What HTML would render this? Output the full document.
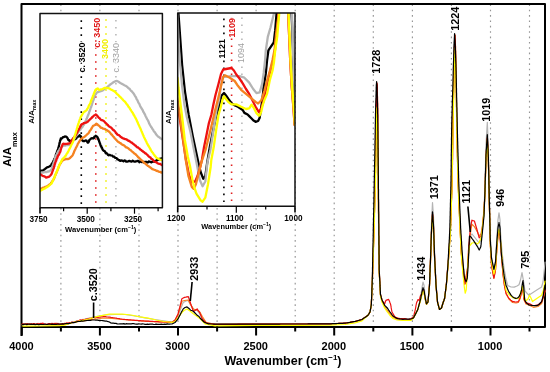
<!DOCTYPE html>
<html><head><meta charset="utf-8"><title>IR spectra</title>
<style>html,body{margin:0;padding:0;background:#fff;}svg{display:block;}</style></head>
<body><svg width="550" height="372" viewBox="0 0 550 372">
<defs><clipPath id="c1"><rect x="40" y="13.4" width="122.4" height="194.3"/></clipPath><clipPath id="c2"><rect x="177.7" y="12.9" width="117.3" height="193.3"/></clipPath></defs>
<rect width="550" height="372" fill="#fff"/>
<g stroke="#959595" stroke-width="1.15" stroke-dasharray="1.6 3.755"><line x1="60.9" y1="4.41" x2="60.9" y2="325"/><line x1="99.9" y1="4.41" x2="99.9" y2="325"/><line x1="139.0" y1="4.41" x2="139.0" y2="325"/><line x1="178.0" y1="4.41" x2="178.0" y2="325"/><line x1="217.1" y1="4.41" x2="217.1" y2="325"/><line x1="256.1" y1="4.41" x2="256.1" y2="325"/><line x1="295.2" y1="4.41" x2="295.2" y2="325"/><line x1="334.2" y1="4.41" x2="334.2" y2="325"/><line x1="373.3" y1="4.41" x2="373.3" y2="325"/><line x1="412.4" y1="4.41" x2="412.4" y2="325"/><line x1="451.4" y1="4.41" x2="451.4" y2="325"/><line x1="490.5" y1="4.41" x2="490.5" y2="325"/><line x1="529.5" y1="4.41" x2="529.5" y2="325"/></g>
<polyline fill="none" stroke="#000" stroke-width="2" stroke-linejoin="round" points="21.5,336 21.5,4.1 545,4.1 545,327 21.5,327"/>
<polyline fill="none" stroke="#b4b4b4" stroke-width="1.2" stroke-linejoin="round" stroke-linecap="round" points="22.0,324.3 40.0,324.3 60.0,325.0 66.0,324.0 71.0,322.5 79.0,320.5 87.0,318.5 96.0,316.5 105.0,315.0 115.0,314.5 125.0,314.5 135.0,316.0 145.0,317.8 155.0,319.5 165.0,321.0 172.0,322.0 175.0,320.5 178.0,316.0 181.0,308.0 183.2,302.5 186.0,301.0 188.3,300.5 190.0,304.0 192.0,307.0 194.0,309.5 197.2,310.5 199.5,313.5 202.3,319.0 206.0,322.5 215.0,324.3 260.0,324.1 300.0,324.0 330.0,323.8 345.0,323.2 355.0,321.5 362.0,319.5 368.0,315.3 370.0,312.0 371.3,305.0 372.4,280.4 373.9,231.4 375.5,172.7 376.3,113.9 376.8,89.4 377.0,86.0 377.3,89.4 377.7,113.9 378.2,172.7 378.7,231.4 379.2,270.6 380.5,294.6 382.0,300.0 384.6,305.3 387.3,308.0 390.0,312.0 393.0,316.0 397.0,318.5 403.0,319.3 411.0,319.0 413.5,318.0 414.8,315.4 416.3,312.5 417.7,309.8 419.0,305.0 420.5,297.6 422.0,287.7 423.0,282.0 424.0,285.1 425.2,295.7 426.5,303.7 428.0,302.0 429.5,283.2 430.5,255.7 431.5,222.6 432.5,202.5 433.5,217.1 434.5,250.2 436.0,283.2 437.5,302.0 439.5,309.5 441.5,308.0 443.0,303.0 444.7,298.0 446.5,283.1 448.1,264.5 450.4,231.4 452.1,182.7 452.9,129.1 453.8,85.2 454.5,51.1 455.0,40.0 455.5,51.1 456.2,85.2 456.8,129.1 458.1,182.7 460.0,226.5 461.7,250.9 463.5,268.4 464.5,278.0 467.3,276.0 468.5,258.0 470.0,236.0 472.0,234.0 474.4,237.0 477.6,241.0 479.2,243.0 480.8,240.0 482.4,228.0 484.0,212.0 485.0,183.0 486.0,144.6 487.3,122.3 488.3,144.6 489.3,194.0 490.3,237.9 491.5,257.6 493.9,269.4 495.5,262.0 497.0,234.6 498.0,219.6 499.0,212.9 500.0,219.6 500.5,232.0 502.0,252.0 504.0,268.0 506.0,279.0 507.7,285.5 511.0,287.0 514.2,287.1 517.0,286.0 519.0,284.7 520.5,280.0 522.0,272.6 523.5,281.0 525.0,291.0 528.7,295.2 533.0,292.5 536.8,290.0 541.6,287.0 543.0,282.0 544.5,267.7 545.0,262.0"/><polyline fill="none" stroke="#f58220" stroke-width="1.2" stroke-linejoin="round" stroke-linecap="round" points="22.0,324.3 40.0,324.3 60.0,325.0 66.0,324.3 71.0,323.0 79.0,321.5 87.0,320.3 96.0,319.0 104.0,318.0 112.0,318.5 122.0,319.5 135.0,320.5 148.0,321.3 160.0,322.0 172.0,322.5 175.0,320.5 178.0,315.0 181.9,301.3 184.5,300.5 188.3,300.0 190.3,304.0 193.4,309.0 197.2,310.2 199.8,312.0 202.3,316.5 206.2,322.5 215.0,324.4 260.0,324.1 300.0,324.0 330.0,323.8 345.0,323.2 355.0,321.5 362.0,319.5 368.0,315.3 370.0,312.0 371.3,305.0 372.4,280.2 374.0,230.8 375.5,171.5 376.3,112.2 376.8,87.5 377.0,84.0 377.3,87.5 377.7,112.2 378.2,171.5 378.7,230.8 379.2,270.3 380.5,295.0 382.0,301.0 384.6,306.5 387.3,310.5 390.0,313.5 393.0,317.0 397.0,319.5 403.0,320.0 411.0,319.8 413.5,318.0 414.8,315.4 416.3,312.5 417.7,309.8 419.0,305.1 420.5,300.2 422.0,293.8 423.0,290.0 424.0,292.0 425.2,299.0 426.5,304.3 428.0,302.0 429.5,285.4 430.5,261.0 431.5,231.8 432.5,214.0 433.5,226.9 434.5,256.2 436.0,285.4 437.5,302.0 439.5,309.5 441.5,308.0 443.0,303.0 444.7,298.0 446.5,283.0 448.1,264.1 450.4,230.3 452.1,180.6 452.9,125.9 453.8,81.1 454.5,46.3 455.0,35.0 455.5,46.3 456.2,81.1 456.8,125.9 458.1,180.6 460.0,225.4 461.3,253.0 463.0,270.0 464.8,284.1 466.5,282.0 467.5,270.0 468.5,255.0 470.3,233.9 471.9,224.2 474.4,226.6 477.6,232.3 479.2,236.0 481.0,234.0 482.4,226.0 484.0,210.0 485.0,192.0 486.0,157.8 487.3,138.0 488.3,157.8 489.3,201.8 490.3,244.0 491.5,265.0 493.9,278.5 495.5,270.0 497.0,247.0 498.0,236.0 499.0,231.0 500.0,236.0 501.5,256.0 503.0,274.0 504.5,286.0 506.1,294.0 509.0,299.0 512.6,302.5 516.0,303.0 518.3,302.5 520.0,299.0 521.5,293.0 522.3,289.0 523.2,293.0 524.0,300.0 526.0,304.0 528.7,305.0 533.5,307.3 538.0,306.5 541.6,303.5 543.5,297.0 545.0,291.0"/><polyline fill="none" stroke="#ee1111" stroke-width="1.2" stroke-linejoin="round" stroke-linecap="round" points="22.0,324.2 23.0,323.7 24.0,324.3 25.0,324.2 26.0,324.0 27.0,323.6 28.0,324.3 29.0,324.2 30.0,323.8 31.0,323.9 32.0,324.0 33.0,323.7 34.0,323.5 35.0,324.2 36.0,324.0 37.0,324.1 38.0,323.4 39.0,324.2 40.0,323.5 41.0,323.4 42.0,323.6 43.0,323.1 44.0,324.4 45.0,324.1 46.0,324.4 47.0,324.2 48.0,324.1 49.0,323.5 50.0,323.7 51.0,323.8 52.0,323.3 53.0,324.2 54.0,323.4 55.0,323.5 56.0,323.2 57.0,324.1 58.0,323.3 59.0,324.4 60.0,324.0 61.0,323.9 62.0,323.9 63.0,323.6 64.0,323.6 65.0,323.2 66.0,323.5 67.0,322.7 68.0,323.5 69.0,322.6 70.0,323.0 71.0,322.5 72.0,321.9 73.0,322.6 74.0,322.2 75.0,321.8 76.0,321.6 77.0,321.1 78.0,321.0 79.0,320.5 80.0,319.9 81.0,320.1 82.0,320.3 83.0,319.4 84.0,320.1 85.0,319.8 86.0,319.1 87.0,319.0 88.0,318.7 89.0,318.6 90.0,318.4 91.0,318.9 92.0,318.0 93.0,317.4 94.0,317.3 95.0,317.9 96.0,317.5 97.0,317.4 98.1,317.3 99.1,317.2 100.2,317.1 101.2,316.9 102.2,316.8 103.3,316.7 104.3,316.6 105.4,316.7 106.5,316.9 107.6,317.0 108.7,317.1 109.8,317.2 110.9,317.4 112.0,317.5 113.0,317.7 114.0,317.8 115.1,318.0 116.1,318.2 117.1,318.4 118.1,318.5 119.1,318.7 120.2,318.9 121.2,319.0 122.2,319.2 123.3,319.3 124.3,319.4 125.4,319.5 126.5,319.6 127.5,319.7 128.6,319.8 129.7,319.8 130.7,319.9 131.8,320.0 132.9,320.1 133.9,320.2 135.0,320.3 136.1,320.4 137.1,320.4 138.2,320.5 139.2,320.6 140.3,320.7 141.3,320.8 142.4,320.8 143.5,320.9 144.5,321.0 145.6,321.1 146.6,321.1 147.7,321.2 148.7,321.2 149.8,321.3 150.8,321.4 151.8,321.4 152.8,321.4 153.8,321.5 154.9,321.6 155.9,321.6 156.9,321.6 157.9,321.7 159.0,321.8 160.0,321.8 161.0,321.8 162.0,321.9 163.0,321.9 164.0,322.0 165.0,322.0 166.0,322.1 167.0,322.1 168.0,322.1 169.0,322.2 170.0,322.2 171.0,322.3 172.0,322.3 173.0,321.5 174.0,320.8 175.0,320.0 175.5,319.0 176.0,318.0 176.5,317.0 177.0,316.0 177.5,315.0 178.0,314.0 178.3,313.0 178.5,312.0 178.8,310.9 179.0,309.9 179.3,308.9 179.6,307.9 179.8,306.9 180.1,305.8 180.3,304.8 180.6,303.8 180.9,302.8 181.1,301.8 181.4,300.7 181.6,299.7 181.9,298.7 183.2,298.0 184.5,297.4 185.8,297.2 187.0,296.9 188.3,296.7 188.6,297.7 189.0,298.6 189.3,299.6 189.6,300.6 190.0,301.5 190.3,302.5 190.6,303.5 191.0,304.5 191.3,305.5 191.7,306.5 192.0,307.5 192.4,308.5 192.7,309.5 193.1,310.5 193.4,311.5 194.3,310.9 195.3,310.2 196.2,309.5 197.2,308.9 197.8,309.8 198.5,310.8 199.2,311.8 199.8,312.7 200.2,313.8 200.6,314.8 201.1,315.9 201.5,316.9 201.9,317.9 202.3,319.0 203.1,319.8 203.9,320.6 204.6,321.4 205.4,322.2 206.2,323.0 207.3,323.2 208.4,323.4 209.5,323.5 210.6,323.7 211.7,323.9 212.8,324.0 213.9,324.2 215.0,324.4 216.0,324.4 217.0,324.4 218.0,324.4 219.0,324.4 220.0,324.4 221.0,324.4 222.0,324.4 223.0,324.3 224.0,324.3 225.0,324.3 226.0,324.3 227.0,324.3 228.0,324.3 229.0,324.3 230.0,324.3 231.0,324.3 232.0,324.3 233.0,324.3 234.0,324.3 235.0,324.3 236.0,324.3 237.0,324.3 238.0,324.2 239.0,324.2 240.0,324.2 241.0,324.2 242.0,324.2 243.0,324.2 244.0,324.2 245.0,324.2 246.0,324.2 247.0,324.2 248.0,324.2 249.0,324.2 250.0,324.2 251.0,324.2 252.0,324.2 253.0,324.1 254.0,324.1 255.0,324.1 256.0,324.1 257.0,324.1 258.0,324.1 259.0,324.1 260.0,324.1 261.0,324.1 262.0,324.1 263.0,324.1 264.0,324.1 265.0,324.1 266.0,324.1 267.0,324.1 268.0,324.1 269.0,324.1 270.0,324.1 271.0,324.1 272.0,324.1 273.0,324.1 274.0,324.1 275.0,324.1 276.0,324.1 277.0,324.1 278.0,324.1 279.0,324.1 280.0,324.1 281.0,324.0 282.0,324.0 283.0,324.0 284.0,324.0 285.0,324.0 286.0,324.0 287.0,324.0 288.0,324.0 289.0,324.0 290.0,324.0 291.0,324.0 292.0,324.0 293.0,324.0 294.0,324.0 295.0,324.0 296.0,324.0 297.0,324.0 298.0,324.0 299.0,324.0 300.0,324.0 301.0,324.0 302.0,324.0 303.0,324.0 304.0,324.0 305.0,324.0 306.0,324.0 307.0,324.0 308.0,323.9 309.0,323.9 310.0,323.9 311.0,323.9 312.0,323.9 313.0,323.9 314.0,323.9 315.0,323.9 316.0,323.9 317.0,323.9 318.0,323.9 319.0,323.9 320.0,323.9 321.0,323.9 322.0,323.9 323.0,323.8 324.0,323.8 325.0,323.8 326.0,323.8 327.0,323.8 328.0,323.8 329.0,323.8 330.0,323.8 331.0,323.8 332.0,323.7 333.0,323.7 334.0,323.6 335.0,323.6 336.0,323.6 337.0,323.5 338.0,323.5 339.0,323.4 340.0,323.4 341.0,323.4 342.0,323.3 343.0,323.3 344.0,323.2 345.0,323.2 346.0,323.0 347.0,322.9 348.0,322.7 349.0,322.5 350.0,322.4 351.0,322.2 352.0,322.0 353.0,321.8 354.0,321.7 355.0,321.5 356.0,321.2 357.0,320.9 358.0,320.6 359.0,320.4 360.0,320.1 361.0,319.8 362.0,319.5 362.9,318.9 363.7,318.3 364.6,317.7 365.4,317.1 366.3,316.5 367.1,315.9 368.0,315.3 368.7,314.2 369.3,313.1 370.0,312.0 370.2,311.0 370.4,310.0 370.6,309.0 370.7,308.0 370.9,307.0 371.1,306.0 371.3,305.0 371.3,304.0 371.4,302.9 371.4,301.9 371.5,300.9 371.5,299.8 371.6,298.8 371.6,297.7 371.6,296.7 371.7,295.7 371.7,294.6 371.8,293.6 371.8,292.6 371.8,291.5 371.9,290.5 371.9,289.5 372.0,288.4 372.0,287.4 372.1,286.4 372.1,285.3 372.1,284.3 372.2,283.2 372.3,282.2 372.3,281.2 372.4,280.1 372.4,279.1 372.4,278.1 372.5,277.1 372.5,276.1 372.5,275.1 372.6,274.1 372.6,273.0 372.6,272.0 372.7,271.0 372.7,270.0 372.7,269.0 372.8,268.0 372.8,267.0 372.8,265.9 372.9,264.9 372.9,263.9 372.9,262.9 373.0,261.9 373.0,260.9 373.0,259.9 373.1,258.9 373.1,257.8 373.1,256.8 373.2,255.8 373.2,254.8 373.2,253.8 373.3,252.8 373.3,251.8 373.3,250.7 373.4,249.7 373.4,248.7 373.4,247.7 373.5,246.7 373.5,245.7 373.5,244.7 373.6,243.7 373.6,242.6 373.6,241.6 373.7,240.6 373.7,239.6 373.7,238.6 373.7,237.6 373.8,236.6 373.8,235.5 373.8,234.5 373.9,233.5 373.9,232.5 373.9,231.5 374.0,230.5 374.0,229.5 374.0,228.5 374.0,227.5 374.1,226.4 374.1,225.4 374.1,224.4 374.2,223.4 374.2,222.4 374.2,221.4 374.2,220.4 374.3,219.4 374.3,218.4 374.3,217.4 374.4,216.3 374.4,215.3 374.4,214.3 374.4,213.3 374.5,212.3 374.5,211.3 374.5,210.3 374.6,209.3 374.6,208.3 374.6,207.3 374.6,206.2 374.7,205.2 374.7,204.2 374.7,203.2 374.7,202.2 374.8,201.2 374.8,200.2 374.8,199.2 374.9,198.2 374.9,197.2 374.9,196.1 374.9,195.1 375.0,194.1 375.0,193.1 375.0,192.1 375.0,191.1 375.1,190.1 375.1,189.1 375.1,188.1 375.1,187.1 375.2,186.0 375.2,185.0 375.2,184.0 375.2,183.0 375.3,182.0 375.3,181.0 375.3,180.0 375.3,179.0 375.4,178.0 375.4,177.0 375.4,175.9 375.4,174.9 375.4,173.9 375.5,172.9 375.5,171.9 375.5,170.9 375.5,169.9 375.5,168.9 375.5,167.9 375.5,166.9 375.6,165.8 375.6,164.8 375.6,163.8 375.6,162.8 375.6,161.8 375.6,160.8 375.6,159.8 375.6,158.8 375.7,157.8 375.7,156.8 375.7,155.7 375.7,154.7 375.7,153.7 375.7,152.7 375.7,151.7 375.8,150.7 375.8,149.7 375.8,148.7 375.8,147.7 375.8,146.7 375.8,145.6 375.8,144.6 375.9,143.6 375.9,142.6 375.9,141.6 375.9,140.6 375.9,139.6 375.9,138.6 375.9,137.6 375.9,136.6 376.0,135.5 376.0,134.5 376.0,133.5 376.0,132.5 376.0,131.5 376.0,130.5 376.0,129.5 376.1,128.5 376.1,127.5 376.1,126.5 376.1,125.4 376.1,124.4 376.1,123.4 376.1,122.4 376.1,121.4 376.2,120.4 376.2,119.4 376.2,118.4 376.2,117.4 376.2,116.4 376.2,115.3 376.2,114.3 376.3,113.3 376.3,112.3 376.3,111.3 376.3,110.3 376.3,109.2 376.3,108.2 376.4,107.2 376.4,106.1 376.4,105.1 376.4,104.1 376.4,103.0 376.5,102.0 376.5,101.0 376.5,99.9 376.5,98.9 376.6,97.9 376.6,96.8 376.6,95.8 376.6,94.8 376.6,93.7 376.7,92.7 376.7,91.6 376.7,90.6 376.7,89.6 376.7,88.5 376.8,87.5 376.8,86.5 376.9,85.3 376.9,84.2 377.0,83.0 377.1,84.2 377.2,85.3 377.3,86.5 377.3,87.5 377.3,88.5 377.3,89.6 377.4,90.6 377.4,91.6 377.4,92.7 377.4,93.7 377.4,94.8 377.4,95.8 377.5,96.8 377.5,97.9 377.5,98.9 377.5,99.9 377.5,101.0 377.6,102.0 377.6,103.0 377.6,104.1 377.6,105.1 377.6,106.1 377.6,107.2 377.7,108.2 377.7,109.2 377.7,110.3 377.7,111.3 377.7,112.3 377.7,113.3 377.7,114.3 377.8,115.3 377.8,116.4 377.8,117.4 377.8,118.4 377.8,119.4 377.8,120.4 377.8,121.4 377.8,122.4 377.8,123.4 377.8,124.4 377.8,125.4 377.8,126.5 377.9,127.5 377.9,128.5 377.9,129.5 377.9,130.5 377.9,131.5 377.9,132.5 377.9,133.5 377.9,134.5 377.9,135.5 377.9,136.6 377.9,137.6 378.0,138.6 378.0,139.6 378.0,140.6 378.0,141.6 378.0,142.6 378.0,143.6 378.0,144.6 378.0,145.6 378.0,146.7 378.0,147.7 378.0,148.7 378.0,149.7 378.1,150.7 378.1,151.7 378.1,152.7 378.1,153.7 378.1,154.7 378.1,155.7 378.1,156.8 378.1,157.8 378.1,158.8 378.1,159.8 378.1,160.8 378.1,161.8 378.2,162.8 378.2,163.8 378.2,164.8 378.2,165.8 378.2,166.9 378.2,167.9 378.2,168.9 378.2,169.9 378.2,170.9 378.2,171.9 378.2,172.9 378.2,173.9 378.2,174.9 378.3,175.9 378.3,177.0 378.3,178.0 378.3,179.0 378.3,180.0 378.3,181.0 378.3,182.0 378.3,183.0 378.3,184.0 378.3,185.0 378.3,186.0 378.3,187.1 378.3,188.1 378.3,189.1 378.4,190.1 378.4,191.1 378.4,192.1 378.4,193.1 378.4,194.1 378.4,195.1 378.4,196.1 378.4,197.2 378.4,198.2 378.4,199.2 378.4,200.2 378.4,201.2 378.5,202.2 378.5,203.2 378.5,204.2 378.5,205.2 378.5,206.2 378.5,207.3 378.5,208.3 378.5,209.3 378.5,210.3 378.5,211.3 378.5,212.3 378.5,213.3 378.6,214.3 378.6,215.3 378.6,216.3 378.6,217.4 378.6,218.4 378.6,219.4 378.6,220.4 378.6,221.4 378.6,222.4 378.6,223.4 378.6,224.4 378.6,225.4 378.7,226.4 378.7,227.5 378.7,228.5 378.7,229.5 378.7,230.5 378.7,231.5 378.7,232.5 378.7,233.5 378.7,234.6 378.7,235.6 378.8,236.6 378.8,237.6 378.8,238.6 378.8,239.6 378.8,240.7 378.8,241.7 378.8,242.7 378.8,243.7 378.8,244.7 378.9,245.8 378.9,246.8 378.9,247.8 378.9,248.8 378.9,249.8 378.9,250.9 378.9,251.9 378.9,252.9 379.0,253.9 379.0,254.9 379.0,255.9 379.0,257.0 379.0,258.0 379.0,259.0 379.0,260.0 379.0,261.0 379.1,262.1 379.1,263.1 379.1,264.1 379.1,265.1 379.1,266.1 379.1,267.2 379.1,268.2 379.1,269.2 379.2,270.2 379.2,271.2 379.3,272.3 379.3,273.3 379.4,274.3 379.4,275.4 379.5,276.4 379.5,277.4 379.6,278.5 379.7,279.5 379.7,280.5 379.8,281.6 379.8,282.6 379.9,283.6 380.0,284.7 380.0,285.7 380.1,286.7 380.1,287.8 380.2,288.8 380.2,289.8 380.3,290.9 380.3,291.9 380.4,292.9 380.4,294.0 380.5,295.0 380.8,296.0 381.1,297.0 381.4,298.0 381.7,299.0 382.0,300.0 382.6,301.0 383.3,302.0 384.0,303.0 384.6,304.0 385.0,302.8 385.5,301.6 385.9,300.4 387.2,299.9 388.6,299.4 389.1,300.5 389.6,301.6 390.0,302.8 390.5,303.9 390.7,304.9 390.9,305.9 391.1,306.9 391.2,307.9 391.4,309.0 391.6,310.0 391.8,311.0 392.0,312.0 392.6,313.0 393.2,314.0 393.8,315.0 394.4,316.0 395.0,317.0 396.0,317.4 397.0,317.7 398.0,318.1 399.0,318.4 400.0,318.8 401.0,318.7 402.0,318.7 403.0,318.6 404.0,318.6 405.0,318.5 406.0,318.8 407.0,319.2 408.0,319.5 409.0,319.2 410.0,318.8 411.0,318.5 412.2,317.8 413.5,317.0 413.8,316.0 414.0,315.0 414.2,314.0 414.5,313.0 414.8,312.0 415.0,311.0 415.2,310.0 415.4,309.0 415.6,308.0 415.8,307.0 415.9,306.0 416.1,305.0 416.3,304.0 416.5,303.0 417.0,301.8 417.5,300.7 418.0,299.5 419.3,300.5 419.6,299.4 419.8,298.2 420.1,297.1 420.3,296.0 421.1,294.9 422.0,293.8 422.3,292.5 422.7,291.3 423.0,290.0 423.5,291.0 424.0,292.0 424.2,293.0 424.3,294.0 424.5,295.0 424.7,296.0 424.9,297.0 425.0,298.0 425.2,299.0 425.5,300.1 425.7,301.1 426.0,302.2 426.2,303.2 426.5,304.3 427.2,303.1 428.0,302.0 428.1,301.0 428.2,300.0 428.3,298.9 428.4,297.9 428.5,296.8 428.6,295.8 428.7,294.8 428.8,293.7 428.8,292.7 428.9,291.7 429.0,290.6 429.1,289.6 429.2,288.5 429.3,287.5 429.4,286.5 429.5,285.4 429.5,284.4 429.6,283.4 429.6,282.4 429.7,281.4 429.7,280.4 429.8,279.3 429.8,278.3 429.8,277.3 429.9,276.3 429.9,275.3 430.0,274.3 430.0,273.2 430.0,272.2 430.1,271.2 430.1,270.2 430.2,269.2 430.2,268.2 430.2,267.1 430.3,266.1 430.3,265.1 430.4,264.1 430.4,263.1 430.5,262.1 430.5,261.0 430.5,260.0 430.6,259.0 430.6,258.0 430.6,257.0 430.7,256.0 430.7,255.0 430.7,254.0 430.8,253.0 430.8,252.0 430.8,250.9 430.9,249.9 430.9,248.9 430.9,247.9 431.0,246.9 431.0,245.9 431.1,244.9 431.1,243.9 431.1,242.9 431.2,241.9 431.2,240.8 431.2,239.8 431.3,238.8 431.3,237.8 431.3,236.8 431.4,235.8 431.4,234.8 431.4,233.8 431.5,232.8 431.5,231.8 431.6,230.7 431.6,229.7 431.7,228.6 431.7,227.6 431.8,226.5 431.9,225.5 431.9,224.4 432.0,223.4 432.0,222.4 432.1,221.3 432.1,220.3 432.2,219.2 432.3,218.2 432.3,217.1 432.4,216.1 432.4,215.0 432.5,214.0 432.6,215.1 432.7,216.1 432.8,217.2 432.8,218.3 432.9,219.4 433.0,220.4 433.1,221.5 433.2,222.6 433.2,223.7 433.3,224.7 433.4,225.8 433.5,226.9 433.5,227.9 433.6,228.9 433.6,229.9 433.6,230.9 433.7,231.9 433.7,232.9 433.7,233.9 433.8,235.0 433.8,236.0 433.8,237.0 433.9,238.0 433.9,239.0 433.9,240.0 434.0,241.0 434.0,242.0 434.1,243.0 434.1,244.0 434.1,245.1 434.2,246.1 434.2,247.1 434.2,248.1 434.3,249.1 434.3,250.1 434.3,251.1 434.4,252.1 434.4,253.1 434.4,254.1 434.5,255.1 434.5,256.2 434.6,257.2 434.6,258.2 434.7,259.2 434.7,260.2 434.8,261.2 434.8,262.2 434.9,263.2 434.9,264.2 435.0,265.2 435.0,266.3 435.1,267.3 435.1,268.3 435.2,269.3 435.2,270.3 435.3,271.3 435.3,272.3 435.4,273.3 435.4,274.3 435.5,275.3 435.5,276.3 435.6,277.4 435.6,278.4 435.7,279.4 435.7,280.4 435.8,281.4 435.8,282.4 435.9,283.4 435.9,284.4 436.0,285.4 436.1,286.5 436.2,287.5 436.3,288.5 436.4,289.6 436.5,290.6 436.6,291.7 436.7,292.7 436.8,293.7 436.8,294.8 436.9,295.8 437.0,296.8 437.1,297.9 437.2,298.9 437.3,300.0 437.4,301.0 437.5,302.0 437.8,303.1 438.1,304.2 438.4,305.2 438.6,306.3 438.9,307.4 439.2,308.4 439.5,309.5 440.5,308.8 441.5,308.0 441.8,307.0 442.1,306.0 442.4,305.0 442.7,304.0 443.0,303.0 443.3,302.0 443.7,301.0 444.0,300.0 444.4,299.0 444.7,298.0 444.8,297.0 444.9,296.0 445.1,295.0 445.2,294.0 445.3,293.0 445.4,292.0 445.5,291.0 445.7,290.0 445.8,289.0 445.9,288.0 446.0,287.0 446.1,286.0 446.3,285.0 446.4,284.0 446.5,283.0 446.6,282.0 446.7,280.9 446.8,279.9 446.8,278.8 446.9,277.8 447.0,276.7 447.1,275.7 447.2,274.6 447.2,273.6 447.3,272.5 447.4,271.5 447.5,270.4 447.6,269.4 447.7,268.3 447.8,267.3 447.9,266.2 448.0,265.2 448.1,264.1 448.2,263.1 448.3,262.1 448.3,261.1 448.4,260.0 448.5,259.0 448.6,258.0 448.6,257.0 448.7,255.9 448.8,254.9 448.8,253.9 448.9,252.9 449.0,251.8 449.1,250.8 449.1,249.8 449.2,248.8 449.3,247.7 449.3,246.7 449.4,245.7 449.5,244.7 449.5,243.6 449.6,242.6 449.7,241.6 449.7,240.6 449.8,239.5 449.9,238.5 450.0,237.5 450.0,236.5 450.1,235.5 450.1,234.4 450.2,233.4 450.3,232.4 450.3,231.4 450.4,230.3 450.4,229.3 450.5,228.3 450.5,227.3 450.6,226.3 450.6,225.3 450.6,224.2 450.7,223.2 450.7,222.2 450.7,221.2 450.8,220.2 450.8,219.2 450.9,218.1 450.9,217.1 450.9,216.1 451.0,215.1 451.0,214.1 451.0,213.1 451.1,212.1 451.1,211.0 451.1,210.0 451.2,209.0 451.2,208.0 451.2,207.0 451.3,206.0 451.3,205.0 451.3,203.9 451.4,202.9 451.4,201.9 451.4,200.9 451.5,199.9 451.5,198.9 451.6,197.9 451.6,196.8 451.6,195.8 451.7,194.8 451.7,193.8 451.7,192.8 451.8,191.8 451.8,190.7 451.8,189.7 451.8,188.7 451.9,187.7 451.9,186.7 451.9,185.7 452.0,184.7 452.0,183.6 452.0,182.6 452.1,181.6 452.1,180.6 452.1,179.6 452.1,178.6 452.2,177.6 452.2,176.5 452.2,175.5 452.2,174.5 452.3,173.5 452.3,172.5 452.3,171.5 452.3,170.5 452.3,169.5 452.4,168.4 452.4,167.4 452.4,166.4 452.4,165.4 452.5,164.4 452.5,163.4 452.5,162.4 452.5,161.4 452.5,160.3 452.6,159.3 452.6,158.3 452.6,157.3 452.6,156.3 452.6,155.3 452.6,154.3 452.6,153.3 452.6,152.2 452.6,151.2 452.6,150.2 452.6,149.2 452.7,148.2 452.7,147.2 452.7,146.2 452.7,145.1 452.7,144.1 452.7,143.1 452.7,142.1 452.7,141.1 452.7,140.1 452.7,139.1 452.8,138.1 452.8,137.0 452.8,136.0 452.8,135.0 452.8,134.0 452.8,133.0 452.8,132.0 452.8,131.0 452.8,130.0 452.8,128.9 452.8,127.9 452.9,126.9 452.9,125.9 452.9,124.9 452.9,123.9 452.9,122.8 452.9,121.8 453.0,120.8 453.0,119.8 453.0,118.8 453.0,117.8 453.1,116.7 453.1,115.7 453.1,114.7 453.1,113.7 453.1,112.7 453.2,111.7 453.2,110.6 453.2,109.6 453.2,108.6 453.2,107.6 453.3,106.6 453.3,105.6 453.3,104.5 453.3,103.5 453.4,102.5 453.4,101.5 453.4,100.5 453.4,99.5 453.4,98.4 453.5,97.4 453.5,96.4 453.5,95.4 453.5,94.4 453.5,93.4 453.6,92.3 453.6,91.3 453.6,90.3 453.6,89.3 453.6,88.3 453.7,87.2 453.7,86.2 453.7,85.2 453.7,84.2 453.8,83.2 453.8,82.2 453.8,81.1 453.8,80.1 453.8,79.1 453.9,78.1 453.9,77.1 453.9,76.0 453.9,75.0 453.9,74.0 454.0,73.0 454.0,71.9 454.0,70.9 454.0,69.9 454.1,68.9 454.1,67.8 454.1,66.8 454.1,65.8 454.1,64.8 454.2,63.7 454.2,62.7 454.2,61.7 454.2,60.7 454.2,59.6 454.3,58.6 454.3,57.6 454.3,56.6 454.3,55.6 454.3,54.5 454.4,53.5 454.4,52.5 454.4,51.5 454.4,50.4 454.5,49.4 454.5,48.4 454.5,47.4 454.5,46.3 454.6,45.3 454.6,44.3 454.6,43.2 454.7,42.2 454.7,41.2 454.8,40.2 454.8,39.1 454.8,38.1 454.9,37.1 454.9,36.0 455.0,35.0 455.0,36.0 455.0,37.1 455.1,38.1 455.1,39.1 455.2,40.2 455.2,41.2 455.3,42.2 455.3,43.2 455.4,44.3 455.4,45.3 455.5,46.3 455.5,47.4 455.5,48.4 455.5,49.4 455.5,50.4 455.6,51.5 455.6,52.5 455.6,53.5 455.6,54.5 455.6,55.6 455.7,56.6 455.7,57.6 455.7,58.6 455.7,59.6 455.8,60.7 455.8,61.7 455.8,62.7 455.8,63.7 455.8,64.8 455.9,65.8 455.9,66.8 455.9,67.8 455.9,68.9 455.9,69.9 456.0,70.9 456.0,71.9 456.0,73.0 456.0,74.0 456.0,75.0 456.1,76.0 456.1,77.1 456.1,78.1 456.1,79.1 456.2,80.1 456.2,81.1 456.2,82.2 456.2,83.2 456.2,84.2 456.2,85.2 456.2,86.2 456.3,87.2 456.3,88.3 456.3,89.3 456.3,90.3 456.3,91.3 456.3,92.3 456.4,93.4 456.4,94.4 456.4,95.4 456.4,96.4 456.4,97.4 456.4,98.4 456.4,99.5 456.5,100.5 456.5,101.5 456.5,102.5 456.5,103.5 456.5,104.5 456.5,105.6 456.5,106.6 456.6,107.6 456.6,108.6 456.6,109.6 456.6,110.6 456.6,111.7 456.6,112.7 456.6,113.7 456.7,114.7 456.7,115.7 456.7,116.7 456.7,117.8 456.7,118.8 456.7,119.8 456.7,120.8 456.8,121.8 456.8,122.8 456.8,123.9 456.8,124.9 456.8,125.9 456.8,126.9 456.9,127.9 456.9,128.9 456.9,130.0 456.9,131.0 456.9,132.0 457.0,133.0 457.0,134.0 457.0,135.0 457.0,136.0 457.0,137.0 457.1,138.1 457.1,139.1 457.1,140.1 457.1,141.1 457.1,142.1 457.2,143.1 457.2,144.1 457.2,145.1 457.2,146.2 457.2,147.2 457.3,148.2 457.3,149.2 457.3,150.2 457.3,151.2 457.3,152.2 457.4,153.3 457.4,154.3 457.4,155.3 457.4,156.3 457.4,157.3 457.5,158.3 457.5,159.3 457.5,160.3 457.5,161.4 457.6,162.4 457.6,163.4 457.6,164.4 457.6,165.4 457.7,166.4 457.7,167.4 457.7,168.4 457.7,169.5 457.8,170.5 457.8,171.5 457.8,172.5 457.9,173.5 457.9,174.5 457.9,175.5 457.9,176.5 458.0,177.6 458.0,178.6 458.0,179.6 458.1,180.6 458.1,181.6 458.1,182.6 458.2,183.7 458.2,184.7 458.2,185.7 458.3,186.7 458.3,187.7 458.4,188.7 458.4,189.8 458.5,190.8 458.5,191.8 458.5,192.8 458.6,193.8 458.6,194.8 458.7,195.9 458.7,196.9 458.7,197.9 458.8,198.9 458.8,199.9 458.9,200.9 458.9,202.0 459.0,203.0 459.0,204.0 459.0,205.0 459.1,206.0 459.1,207.0 459.2,208.1 459.2,209.1 459.3,210.1 459.3,211.1 459.4,212.1 459.4,213.1 459.5,214.2 459.5,215.2 459.5,216.2 459.6,217.2 459.6,218.2 459.7,219.3 459.7,220.3 459.8,221.3 459.8,222.3 459.9,223.3 459.9,224.3 460.0,225.4 460.0,226.4 460.1,227.4 460.1,228.4 460.2,229.5 460.2,230.5 460.2,231.5 460.3,232.5 460.3,233.5 460.4,234.6 460.4,235.6 460.5,236.6 460.5,237.6 460.6,238.7 460.6,239.7 460.7,240.7 460.7,241.7 460.8,242.8 460.8,243.8 460.9,244.8 460.9,245.8 461.0,246.9 461.0,247.9 461.1,248.9 461.1,249.9 461.2,251.0 461.2,252.0 461.3,253.0 461.4,254.0 461.5,255.0 461.6,256.0 461.7,257.0 461.8,258.0 461.9,259.0 462.0,260.0 462.1,261.0 462.2,262.0 462.3,263.0 462.4,264.0 462.5,265.0 462.6,266.0 462.7,267.0 462.8,268.0 462.9,269.0 463.0,270.0 463.1,271.0 463.3,272.0 463.4,273.0 463.5,274.0 463.6,275.0 463.8,276.0 463.9,277.1 464.0,278.1 464.2,279.1 464.3,280.1 464.4,281.1 464.5,282.1 464.7,283.1 464.8,284.1 465.0,283.1 465.1,282.1 465.3,281.1 465.5,280.1 465.6,279.1 465.8,278.1 466.0,277.1 466.1,276.1 466.3,275.0 466.5,274.0 466.7,273.0 466.8,272.0 467.0,271.0 467.2,270.0 467.3,269.0 467.5,268.0 467.6,267.0 467.6,266.0 467.7,265.0 467.7,264.0 467.8,263.0 467.8,262.0 467.9,261.0 467.9,260.0 468.0,259.0 468.1,258.0 468.1,257.0 468.2,256.0 468.2,255.0 468.3,254.0 468.3,253.0 468.4,252.0 468.4,251.0 468.5,250.0 468.6,249.0 468.7,248.0 468.8,247.0 468.8,246.0 468.9,245.0 469.0,244.0 469.1,243.0 469.2,242.0 469.3,241.0 469.4,240.0 469.4,239.0 469.5,238.0 469.6,237.0 469.7,236.0 469.8,235.0 469.9,234.0 470.0,233.0 470.0,232.0 470.1,231.0 470.2,230.0 470.3,229.0 470.5,227.9 470.7,226.8 470.9,225.7 471.1,224.6 471.3,223.5 471.5,222.4 471.7,221.3 471.9,220.2 473.1,220.6 474.4,221.0 474.7,222.0 475.0,223.0 475.3,224.0 475.6,225.0 475.9,226.0 476.2,227.0 476.5,228.0 476.8,229.0 477.1,230.0 477.3,231.0 477.6,232.0 477.9,233.0 478.1,233.9 478.4,234.9 478.7,235.9 478.9,236.9 479.2,237.9 480.1,236.9 481.0,236.0 481.2,235.0 481.4,234.0 481.5,233.0 481.7,232.0 481.9,231.0 482.0,230.0 482.2,229.0 482.4,228.0 482.5,227.0 482.6,226.0 482.7,225.0 482.8,224.0 482.9,223.0 483.0,222.0 483.1,221.0 483.2,220.0 483.3,219.0 483.4,218.0 483.5,217.0 483.6,216.0 483.7,215.0 483.8,214.0 483.9,213.0 484.0,212.0 484.1,211.0 484.1,210.0 484.1,209.0 484.2,208.0 484.2,207.0 484.3,206.0 484.4,205.0 484.4,204.0 484.4,203.0 484.5,202.0 484.6,201.0 484.6,200.0 484.6,199.0 484.7,198.0 484.8,197.0 484.8,196.0 484.9,195.0 484.9,194.0 484.9,193.0 485.0,192.0 485.0,191.0 485.1,190.0 485.1,189.0 485.1,188.0 485.1,187.0 485.2,186.0 485.2,185.0 485.2,184.0 485.3,183.0 485.3,181.9 485.3,180.9 485.4,179.9 485.4,178.9 485.4,177.9 485.4,176.9 485.5,175.9 485.5,174.9 485.5,173.9 485.6,172.9 485.6,171.9 485.6,170.9 485.6,169.9 485.7,168.9 485.7,167.9 485.7,166.9 485.8,165.9 485.8,164.9 485.8,163.9 485.9,162.8 485.9,161.8 485.9,160.8 485.9,159.8 486.0,158.8 486.0,157.8 486.1,156.8 486.1,155.7 486.2,154.7 486.3,153.6 486.3,152.6 486.4,151.6 486.5,150.5 486.5,149.5 486.6,148.4 486.7,147.4 486.8,146.3 486.8,145.3 486.9,144.3 487.0,143.2 487.0,142.2 487.1,141.1 487.2,140.1 487.2,139.0 487.3,138.0 487.4,139.0 487.4,140.1 487.5,141.1 487.5,142.2 487.6,143.2 487.6,144.3 487.7,145.3 487.7,146.3 487.8,147.4 487.8,148.4 487.9,149.5 487.9,150.5 488.0,151.6 488.0,152.6 488.1,153.6 488.1,154.7 488.2,155.7 488.2,156.8 488.3,157.8 488.3,158.8 488.3,159.9 488.4,160.9 488.4,161.9 488.4,162.9 488.4,164.0 488.5,165.0 488.5,166.0 488.5,167.0 488.5,168.0 488.6,169.1 488.6,170.1 488.6,171.1 488.6,172.1 488.6,173.2 488.7,174.2 488.7,175.2 488.7,176.2 488.7,177.2 488.8,178.3 488.8,179.3 488.8,180.3 488.8,181.3 488.9,182.3 488.9,183.4 488.9,184.4 488.9,185.4 489.0,186.4 489.0,187.5 489.0,188.5 489.0,189.5 489.0,190.5 489.1,191.5 489.1,192.6 489.1,193.6 489.1,194.6 489.2,195.6 489.2,196.7 489.2,197.7 489.2,198.7 489.3,199.7 489.3,200.7 489.3,201.8 489.3,202.8 489.3,203.8 489.4,204.8 489.4,205.8 489.4,206.8 489.4,207.8 489.5,208.8 489.5,209.8 489.5,210.8 489.5,211.8 489.6,212.8 489.6,213.8 489.6,214.8 489.6,215.8 489.7,216.8 489.7,217.9 489.7,218.9 489.7,219.9 489.8,220.9 489.8,221.9 489.8,222.9 489.8,223.9 489.8,224.9 489.9,225.9 489.9,226.9 489.9,227.9 489.9,228.9 490.0,229.9 490.0,230.9 490.0,231.9 490.0,232.9 490.1,233.9 490.1,234.9 490.1,236.0 490.1,237.0 490.2,238.0 490.2,239.0 490.2,240.0 490.2,241.0 490.3,242.0 490.3,243.0 490.3,244.0 490.4,245.0 490.4,246.0 490.5,247.0 490.5,248.0 490.6,249.0 490.6,250.0 490.7,251.0 490.8,252.0 490.8,253.0 490.9,254.0 490.9,255.0 491.0,256.0 491.0,257.0 491.1,258.0 491.2,259.0 491.2,260.0 491.3,261.0 491.3,262.0 491.4,263.0 491.4,264.0 491.5,265.0 491.7,266.0 491.9,267.0 492.1,268.0 492.2,269.1 492.4,270.1 492.6,271.1 492.8,272.1 493.0,273.1 493.2,274.1 493.3,275.2 493.5,276.2 493.7,277.2 493.9,278.2 494.1,277.2 494.3,276.1 494.5,275.1 494.7,274.1 494.9,273.1 495.1,272.1 495.3,271.0 495.5,270.0 495.6,269.0 495.6,268.0 495.7,267.0 495.8,266.0 495.8,265.0 495.9,264.0 496.0,263.0 496.0,262.0 496.1,261.0 496.2,260.0 496.2,259.0 496.3,258.0 496.3,257.0 496.4,256.0 496.5,255.0 496.5,254.0 496.6,253.0 496.7,252.0 496.7,251.0 496.8,250.0 496.9,249.0 496.9,248.0 497.0,247.0 497.1,246.0 497.2,245.0 497.3,244.0 497.4,243.0 497.5,242.0 497.5,241.0 497.6,240.0 497.7,239.0 497.8,238.0 497.9,237.0 498.0,236.0 498.2,235.0 498.4,234.0 498.6,233.0 498.8,232.0 499.0,231.0 499.2,232.0 499.4,233.0 499.6,234.0 499.8,235.0 500.0,236.0 500.1,237.0 500.1,238.0 500.2,239.0 500.3,240.0 500.4,241.0 500.4,242.0 500.5,243.0 500.6,244.0 500.7,245.0 500.8,246.0 500.8,247.0 500.9,248.0 501.0,249.0 501.1,250.0 501.1,251.0 501.2,252.0 501.3,253.0 501.4,254.0 501.4,255.0 501.5,256.0 501.6,257.0 501.7,258.0 501.8,259.0 501.8,260.0 501.9,261.0 502.0,262.0 502.1,263.0 502.2,264.0 502.2,265.0 502.3,266.0 502.4,267.0 502.5,268.0 502.6,269.0 502.7,270.0 502.8,271.0 502.8,272.0 502.9,273.0 503.0,274.0 503.1,275.0 503.2,276.0 503.4,277.0 503.5,278.0 503.6,279.0 503.8,280.0 503.9,281.0 504.0,282.0 504.1,283.0 504.2,284.0 504.4,285.0 504.5,286.0 504.7,287.1 505.0,288.1 505.2,289.2 505.4,290.3 505.6,291.4 505.9,292.4 506.1,293.5 506.7,294.5 507.3,295.5 507.8,296.5 508.4,297.5 509.0,298.5 509.9,299.3 510.8,300.1 511.7,300.8 512.6,301.6 513.7,301.7 514.9,301.9 516.0,302.0 517.1,301.8 518.3,301.6 518.9,300.4 519.4,299.2 520.0,298.0 520.2,297.0 520.5,296.0 520.8,295.0 521.0,294.0 521.2,293.0 521.5,292.0 521.7,291.0 521.9,290.0 522.1,289.0 522.3,288.0 522.5,289.0 522.8,290.0 523.0,291.0 523.2,292.0 523.3,293.0 523.4,294.0 523.5,295.0 523.7,296.0 523.8,297.0 523.9,298.0 524.0,299.0 524.5,300.0 525.0,301.0 525.5,302.0 526.0,303.0 527.4,303.2 528.7,303.5 529.7,303.9 530.6,304.3 531.6,304.8 532.5,305.2 533.5,305.6 534.6,305.5 535.8,305.3 536.9,305.1 538.0,305.0 538.9,304.2 539.8,303.5 540.7,302.8 541.6,302.0 541.9,301.0 542.2,300.0 542.5,299.0 542.9,298.0 543.2,297.0 543.5,296.0 543.8,295.0 544.0,294.0 544.2,293.0 544.5,292.0 544.8,291.0 545.0,290.0"/><polyline fill="none" stroke="#ffff00" stroke-width="1.2" stroke-linejoin="round" stroke-linecap="round" points="22.0,326.1 40.0,326.0 60.0,325.7 66.0,324.8 71.0,323.0 79.0,321.2 87.0,319.5 96.6,316.6 109.4,314.2 122.2,314.1 131.0,315.0 140.0,316.8 148.0,318.2 156.0,320.0 164.0,321.5 172.0,322.3 175.0,321.5 178.0,318.0 181.9,312.7 184.0,310.5 187.0,309.0 190.0,311.0 193.0,313.5 197.2,316.6 201.0,319.5 205.0,323.8 215.0,325.9 260.0,325.4 300.0,325.3 330.0,325.1 345.0,324.5 355.0,322.8 362.0,320.8 368.0,315.3 370.0,312.0 371.3,305.0 372.3,282.3 373.9,238.2 375.4,185.2 376.3,132.2 376.8,110.1 377.0,107.0 377.3,110.1 377.7,132.2 378.2,185.2 378.7,238.2 379.2,273.5 380.5,296.0 382.0,302.0 384.6,308.0 387.3,312.0 390.0,315.5 393.0,318.5 397.0,320.0 403.0,320.5 411.0,320.3 413.5,318.0 414.8,315.4 416.3,312.5 417.7,309.8 419.0,305.2 420.5,300.6 422.0,294.5 423.0,291.0 424.0,292.9 425.2,299.4 426.5,304.4 428.0,302.0 429.5,285.8 430.5,262.0 431.5,233.4 432.5,216.0 433.5,228.6 434.5,257.2 436.0,285.8 437.5,302.0 439.5,309.5 441.5,308.0 443.0,303.0 444.7,298.0 446.5,283.4 448.1,265.5 450.4,233.4 452.0,186.2 452.9,134.3 453.8,91.8 454.5,58.8 455.0,48.0 455.5,58.8 456.2,91.8 456.8,134.3 458.1,186.2 460.0,228.7 461.3,255.0 463.0,275.0 464.3,287.0 465.2,293.2 466.2,290.0 467.2,275.0 468.3,255.0 469.5,246.0 472.0,243.0 475.0,242.5 477.6,244.0 479.2,242.0 481.0,238.0 482.4,228.0 484.0,212.0 485.0,193.2 486.0,159.5 487.3,140.0 488.3,159.5 489.3,202.8 490.3,244.0 491.5,262.0 493.9,274.2 495.5,268.0 497.0,245.0 498.0,234.0 499.0,229.0 500.0,234.0 501.5,252.0 503.0,270.0 504.5,282.0 506.1,290.3 509.0,294.5 512.6,297.6 516.0,298.6 518.3,298.4 520.0,295.0 521.5,290.0 522.3,286.0 523.2,290.0 524.0,297.0 526.0,300.8 528.0,299.0 529.5,295.2 531.0,298.0 532.5,301.6 536.8,298.4 541.6,295.2 543.5,290.0 545.0,281.0"/><polyline fill="none" stroke="#000000" stroke-width="1.2" stroke-linejoin="round" stroke-linecap="round" points="22.0,324.3 23.2,324.6 24.4,324.1 25.6,324.0 26.8,324.6 28.0,324.1 29.2,324.1 30.4,324.4 31.6,324.2 32.8,324.5 34.0,324.1 35.2,324.6 36.4,324.2 37.6,324.4 38.8,324.6 40.0,324.3 41.2,324.4 42.5,324.5 43.8,324.4 45.0,324.0 46.2,324.5 47.5,324.3 48.8,324.1 50.0,324.0 51.2,324.4 52.5,324.2 53.8,324.4 55.0,324.3 56.2,324.4 57.5,324.2 58.8,324.2 60.0,324.1 61.2,324.1 62.4,323.8 63.6,324.1 64.8,323.7 66.0,323.7 67.2,323.7 68.5,323.6 69.8,323.3 71.0,323.0 72.3,322.5 73.7,322.7 75.0,322.4 76.3,321.8 77.7,321.5 79.0,321.5 80.3,321.4 81.7,320.9 83.0,321.3 84.3,320.8 85.7,320.7 87.0,320.5 88.2,320.3 89.4,320.4 90.6,320.4 91.8,320.0 93.0,320.0 94.4,320.0 95.8,320.2 97.2,320.1 98.6,320.3 100.0,320.3 101.3,320.5 102.7,320.6 104.0,320.8 105.5,321.1 107.0,321.2 108.2,321.7 109.5,322.0 110.8,323.0 112.0,323.2 113.3,323.2 114.7,323.4 116.0,323.4 117.3,323.9 118.7,324.0 120.0,323.8 121.2,323.8 122.5,323.8 123.8,323.6 125.0,324.1 126.2,323.7 127.5,323.9 128.8,323.8 130.0,323.8 131.2,323.8 132.5,323.7 133.8,323.7 135.0,324.0 136.2,324.1 137.5,324.1 138.8,323.8 140.0,324.0 141.2,324.1 142.5,323.8 143.8,324.0 145.0,324.3 146.2,324.3 147.5,324.1 148.8,324.3 150.0,324.1 151.2,324.2 152.5,324.2 153.8,324.5 155.0,324.4 156.2,324.2 157.5,324.4 158.8,324.4 160.0,324.3 161.2,324.2 162.4,324.4 163.6,324.4 164.8,324.2 166.0,324.4 167.2,323.8 168.4,324.1 169.6,324.1 170.8,324.0 172.0,324.0 173.5,323.2 175.0,322.5 176.0,321.3 177.0,320.2 178.0,319.0 178.6,317.8 179.2,316.6 179.8,315.4 180.4,314.2 181.0,313.0 181.7,311.6 182.5,310.3 183.2,308.9 185.0,307.5 187.0,306.9 188.0,307.7 189.0,308.5 189.9,309.4 190.8,310.2 193.0,311.0 194.0,312.0 195.0,313.0 196.1,314.1 197.2,315.3 199.0,316.5 200.0,317.8 201.0,319.0 202.0,320.0 203.0,321.0 204.0,322.0 205.3,322.6 206.7,323.2 208.0,323.8 209.4,323.9 210.8,324.0 212.2,324.0 213.6,324.1 215.0,324.2 216.2,324.2 217.4,324.2 218.6,324.2 219.9,324.2 221.1,324.2 222.3,324.2 223.5,324.2 224.7,324.2 225.9,324.2 227.2,324.2 228.4,324.2 229.6,324.2 230.8,324.2 232.0,324.2 233.2,324.2 234.5,324.2 235.7,324.2 236.9,324.2 238.1,324.1 239.3,324.1 240.5,324.1 241.8,324.1 243.0,324.1 244.2,324.1 245.4,324.1 246.6,324.1 247.8,324.1 249.1,324.1 250.3,324.1 251.5,324.1 252.7,324.1 253.9,324.1 255.1,324.1 256.4,324.1 257.6,324.1 258.8,324.1 260.0,324.1 261.2,324.1 262.4,324.1 263.6,324.1 264.8,324.1 266.1,324.1 267.3,324.1 268.5,324.1 269.7,324.1 270.9,324.1 272.1,324.1 273.3,324.1 274.5,324.1 275.8,324.1 277.0,324.1 278.2,324.1 279.4,324.1 280.6,324.0 281.8,324.0 283.0,324.0 284.2,324.0 285.5,324.0 286.7,324.0 287.9,324.0 289.1,324.0 290.3,324.0 291.5,324.0 292.7,324.0 293.9,324.0 295.2,324.0 296.4,324.0 297.6,324.0 298.8,324.0 300.0,324.0 301.2,324.0 302.4,324.0 303.6,324.0 304.8,324.0 306.0,324.0 307.2,324.0 308.4,323.9 309.6,323.9 310.8,323.9 312.0,323.9 313.2,323.9 314.4,323.9 315.6,323.9 316.8,323.9 318.0,323.9 319.2,323.9 320.4,323.9 321.6,323.9 322.8,323.8 324.0,323.8 325.2,323.8 326.4,323.8 327.6,323.8 328.8,323.8 330.0,323.8 331.2,323.8 332.5,323.7 333.8,323.6 335.0,323.6 336.2,323.6 337.5,323.5 338.8,323.4 340.0,323.4 341.2,323.4 342.5,323.3 343.8,323.2 345.0,323.2 346.2,323.0 347.5,322.8 348.8,322.6 350.0,322.4 351.2,322.1 352.5,321.9 353.8,321.7 355.0,321.5 356.2,321.2 357.3,320.8 358.5,320.5 359.7,320.2 360.8,319.8 362.0,319.5 363.0,318.8 364.0,318.1 365.0,317.4 366.0,316.7 367.0,316.0 368.0,315.3 368.7,314.2 369.3,313.1 370.0,312.0 370.3,310.6 370.5,309.2 370.8,307.8 371.0,306.4 371.3,305.0 371.4,303.8 371.4,302.5 371.4,301.2 371.5,300.0 371.6,298.8 371.6,297.5 371.7,296.2 371.7,295.0 371.8,293.8 371.8,292.5 371.9,291.2 371.9,290.0 371.9,288.8 372.0,287.5 372.1,286.2 372.1,285.0 372.2,283.8 372.2,282.5 372.2,281.2 372.3,280.0 372.3,278.8 372.3,277.6 372.4,276.3 372.4,275.1 372.4,273.9 372.4,272.7 372.5,271.5 372.5,270.2 372.5,269.0 372.5,267.8 372.6,266.6 372.6,265.4 372.6,264.1 372.6,262.9 372.7,261.7 372.7,260.5 372.7,259.3 372.7,258.0 372.8,256.8 372.8,255.6 372.8,254.4 372.8,253.2 372.9,252.0 372.9,250.7 372.9,249.5 372.9,248.3 373.0,247.1 373.0,245.9 373.0,244.6 373.0,243.4 373.1,242.2 373.1,241.0 373.1,239.8 373.1,238.5 373.2,237.3 373.2,236.1 373.2,234.9 373.2,233.7 373.3,232.4 373.3,231.2 373.3,230.0 373.3,228.8 373.3,227.6 373.4,226.4 373.4,225.2 373.4,224.0 373.4,222.8 373.5,221.6 373.5,220.4 373.5,219.2 373.5,218.0 373.6,216.8 373.6,215.6 373.6,214.4 373.6,213.2 373.7,212.0 373.7,210.8 373.7,209.6 373.7,208.4 373.8,207.2 373.8,206.0 373.8,204.8 373.8,203.6 373.9,202.4 373.9,201.2 373.9,200.0 373.9,198.8 373.9,197.6 374.0,196.4 374.0,195.2 374.0,194.0 374.0,192.8 374.1,191.6 374.1,190.4 374.1,189.2 374.1,188.0 374.2,186.8 374.2,185.6 374.2,184.4 374.2,183.2 374.3,182.0 374.3,180.8 374.3,179.6 374.3,178.4 374.4,177.2 374.4,176.0 374.4,174.8 374.4,173.6 374.5,172.4 374.5,171.2 374.5,170.0 374.5,168.8 374.5,167.6 374.6,166.4 374.6,165.2 374.6,164.0 374.6,162.8 374.7,161.6 374.7,160.4 374.7,159.2 374.7,158.0 374.7,156.8 374.8,155.6 374.8,154.4 374.8,153.2 374.8,152.0 374.9,150.8 374.9,149.6 374.9,148.4 374.9,147.2 374.9,146.0 375.0,144.8 375.0,143.6 375.0,142.4 375.0,141.2 375.1,140.0 375.1,138.8 375.1,137.6 375.1,136.4 375.1,135.2 375.2,134.0 375.2,132.8 375.2,131.6 375.2,130.4 375.2,129.2 375.3,128.0 375.3,126.8 375.3,125.6 375.3,124.4 375.4,123.2 375.4,122.0 375.4,120.8 375.4,119.6 375.4,118.4 375.5,117.2 375.5,116.0 375.5,114.8 375.5,113.6 375.6,112.4 375.6,111.2 375.6,110.0 375.6,108.8 375.7,107.5 375.7,106.2 375.7,105.0 375.8,103.8 375.8,102.5 375.8,101.2 375.9,100.0 375.9,98.8 376.0,97.5 376.0,96.2 376.0,95.0 376.1,93.8 376.1,92.5 376.1,91.2 376.2,90.0 376.2,88.8 376.2,87.5 376.3,86.2 376.3,85.0 376.5,83.2 376.6,81.5 376.8,83.2 377.0,85.0 377.0,86.2 377.1,87.5 377.1,88.8 377.1,90.0 377.1,91.2 377.2,92.5 377.2,93.8 377.2,95.0 377.3,96.2 377.3,97.5 377.3,98.8 377.4,100.0 377.4,101.2 377.4,102.5 377.5,103.8 377.5,105.0 377.5,106.2 377.5,107.5 377.6,108.8 377.6,110.0 377.6,111.2 377.6,112.4 377.6,113.6 377.7,114.8 377.7,116.0 377.7,117.2 377.7,118.4 377.7,119.6 377.7,120.8 377.7,122.0 377.8,123.2 377.8,124.4 377.8,125.6 377.8,126.8 377.8,128.0 377.8,129.2 377.8,130.4 377.9,131.6 377.9,132.8 377.9,134.0 377.9,135.2 377.9,136.4 377.9,137.6 377.9,138.8 378.0,140.0 378.0,141.2 378.0,142.4 378.0,143.6 378.0,144.8 378.0,146.0 378.0,147.2 378.0,148.4 378.1,149.6 378.1,150.8 378.1,152.0 378.1,153.2 378.1,154.4 378.1,155.6 378.1,156.8 378.2,158.0 378.2,159.2 378.2,160.4 378.2,161.6 378.2,162.8 378.2,164.0 378.2,165.2 378.3,166.4 378.3,167.6 378.3,168.8 378.3,170.0 378.3,171.2 378.3,172.4 378.3,173.6 378.3,174.8 378.4,176.0 378.4,177.2 378.4,178.4 378.4,179.6 378.4,180.8 378.4,182.0 378.4,183.2 378.4,184.4 378.4,185.6 378.4,186.8 378.4,188.0 378.5,189.2 378.5,190.4 378.5,191.6 378.5,192.8 378.5,194.0 378.5,195.2 378.5,196.4 378.5,197.6 378.5,198.8 378.6,200.0 378.6,201.2 378.6,202.4 378.6,203.6 378.6,204.8 378.6,206.0 378.6,207.2 378.6,208.4 378.6,209.6 378.6,210.8 378.7,212.0 378.7,213.2 378.7,214.4 378.7,215.6 378.7,216.8 378.7,218.0 378.7,219.2 378.7,220.4 378.7,221.6 378.7,222.8 378.8,224.0 378.8,225.2 378.8,226.4 378.8,227.6 378.8,228.8 378.8,230.0 378.8,231.2 378.8,232.4 378.8,233.6 378.8,234.8 378.9,236.1 378.9,237.3 378.9,238.5 378.9,239.7 378.9,240.9 378.9,242.1 378.9,243.3 378.9,244.5 379.0,245.8 379.0,247.0 379.0,248.2 379.0,249.4 379.0,250.6 379.0,251.8 379.0,253.0 379.0,254.2 379.1,255.5 379.1,256.7 379.1,257.9 379.1,259.1 379.1,260.3 379.1,261.5 379.1,262.7 379.1,263.9 379.2,265.2 379.2,266.4 379.2,267.6 379.2,268.8 379.2,270.0 379.3,271.2 379.3,272.4 379.4,273.7 379.5,274.9 379.5,276.1 379.6,277.4 379.7,278.6 379.7,279.8 379.8,281.0 379.9,282.2 379.9,283.5 380.0,284.7 380.0,285.9 380.1,287.1 380.2,288.4 380.2,289.6 380.3,290.8 380.4,292.1 380.4,293.3 380.5,294.5 380.9,295.9 381.2,297.2 381.6,298.6 382.0,300.0 382.6,301.3 383.3,302.6 384.0,304.0 384.6,305.3 385.5,306.2 386.4,307.1 387.3,308.0 388.0,309.0 388.6,310.0 389.3,311.0 390.0,312.0 390.8,313.0 391.5,314.0 392.2,315.0 393.0,316.0 394.3,316.8 395.7,317.7 397.0,318.5 398.2,318.7 399.4,318.8 400.6,319.0 401.8,319.1 403.0,319.3 404.3,319.2 405.7,319.2 407.0,319.1 408.3,319.1 409.7,319.1 411.0,319.0 412.2,318.5 413.5,318.0 414.1,316.7 414.8,315.4 415.6,313.9 416.3,312.5 417.0,311.1 417.7,309.8 418.0,308.6 418.4,307.4 418.7,306.2 419.0,305.0 419.4,303.6 419.8,302.2 420.1,300.8 420.5,299.4 420.8,298.2 421.0,296.9 421.2,295.7 421.5,294.5 421.8,293.2 422.0,292.0 422.3,290.6 422.7,289.1 423.0,287.7 423.5,288.9 424.0,290.0 424.2,291.3 424.4,292.7 424.6,294.0 424.8,295.3 425.0,296.7 425.2,298.0 425.5,299.2 425.7,300.4 426.0,301.6 426.2,302.8 426.5,304.0 427.2,303.0 428.0,302.0 428.1,300.8 428.2,299.6 428.3,298.4 428.4,297.1 428.5,295.9 428.6,294.7 428.8,293.5 428.9,292.3 429.0,291.1 429.1,289.9 429.2,288.6 429.3,287.4 429.4,286.2 429.5,285.0 429.6,283.8 429.6,282.5 429.6,281.2 429.7,280.0 429.8,278.8 429.8,277.5 429.9,276.2 429.9,275.0 429.9,273.8 430.0,272.5 430.1,271.2 430.1,270.0 430.1,268.8 430.2,267.5 430.2,266.2 430.3,265.0 430.4,263.8 430.4,262.5 430.4,261.2 430.5,260.0 430.5,258.8 430.6,257.6 430.6,256.4 430.7,255.2 430.7,254.0 430.7,252.8 430.8,251.6 430.8,250.4 430.9,249.2 430.9,248.0 430.9,246.8 431.0,245.6 431.0,244.4 431.1,243.2 431.1,242.0 431.1,240.8 431.2,239.6 431.2,238.4 431.3,237.2 431.3,236.0 431.3,234.8 431.4,233.6 431.4,232.4 431.5,231.2 431.5,230.0 431.6,228.8 431.6,227.6 431.7,226.4 431.8,225.1 431.8,223.9 431.9,222.7 432.0,221.5 432.0,220.3 432.1,219.1 432.2,217.9 432.2,216.7 432.3,215.4 432.4,214.2 432.4,213.0 432.5,211.8 432.6,213.0 432.7,214.2 432.8,215.4 432.9,216.6 433.0,217.8 433.0,219.0 433.1,220.2 433.2,221.4 433.3,222.6 433.4,223.8 433.5,225.0 433.5,226.2 433.6,227.4 433.6,228.6 433.7,229.8 433.7,231.0 433.7,232.2 433.8,233.4 433.8,234.6 433.9,235.8 433.9,237.0 433.9,238.2 434.0,239.4 434.0,240.6 434.1,241.8 434.1,243.0 434.1,244.2 434.2,245.4 434.2,246.6 434.3,247.8 434.3,249.0 434.3,250.2 434.4,251.4 434.4,252.6 434.5,253.8 434.5,255.0 434.6,256.2 434.6,257.4 434.7,258.6 434.7,259.8 434.8,261.0 434.9,262.2 434.9,263.4 435.0,264.6 435.0,265.8 435.1,267.0 435.2,268.2 435.2,269.4 435.3,270.6 435.3,271.8 435.4,273.0 435.5,274.2 435.5,275.4 435.6,276.6 435.6,277.8 435.7,279.0 435.8,280.2 435.8,281.4 435.9,282.6 435.9,283.8 436.0,285.0 436.1,286.2 436.2,287.4 436.3,288.6 436.4,289.9 436.5,291.1 436.6,292.3 436.8,293.5 436.9,294.7 437.0,295.9 437.1,297.1 437.2,298.4 437.3,299.6 437.4,300.8 437.5,302.0 437.8,303.2 438.2,304.5 438.5,305.8 438.8,307.0 439.2,308.2 439.5,309.5 440.5,308.8 441.5,308.0 441.9,306.8 442.2,305.5 442.6,304.2 443.0,303.0 443.4,301.8 443.9,300.5 444.3,299.2 444.7,298.0 444.8,296.8 445.0,295.5 445.1,294.2 445.3,293.0 445.4,291.8 445.6,290.5 445.8,289.2 445.9,288.0 446.1,286.8 446.2,285.5 446.4,284.2 446.5,283.0 446.6,281.7 446.7,280.5 446.8,279.2 446.9,277.9 447.0,276.7 447.1,275.4 447.2,274.1 447.3,272.9 447.4,271.6 447.5,270.3 447.6,269.1 447.7,267.8 447.8,266.5 447.9,265.3 448.0,264.0 448.1,262.8 448.1,261.6 448.2,260.4 448.3,259.1 448.3,257.9 448.4,256.7 448.4,255.5 448.5,254.3 448.6,253.1 448.6,251.9 448.7,250.6 448.8,249.4 448.8,248.2 448.9,247.0 449.0,245.8 449.0,244.6 449.1,243.4 449.2,242.1 449.2,240.9 449.3,239.7 449.4,238.5 449.4,237.3 449.5,236.1 449.5,234.9 449.6,233.6 449.7,232.4 449.7,231.2 449.8,230.0 449.8,228.8 449.9,227.6 449.9,226.3 449.9,225.1 449.9,223.9 450.0,222.7 450.0,221.5 450.0,220.2 450.1,219.0 450.1,217.8 450.1,216.6 450.2,215.4 450.2,214.1 450.2,212.9 450.2,211.7 450.3,210.5 450.3,209.3 450.3,208.0 450.4,206.8 450.4,205.6 450.4,204.4 450.4,203.2 450.5,202.0 450.5,200.7 450.5,199.5 450.6,198.3 450.6,197.1 450.6,195.9 450.6,194.6 450.7,193.4 450.7,192.2 450.7,191.0 450.8,189.8 450.8,188.5 450.8,187.3 450.9,186.1 450.9,184.9 450.9,183.7 450.9,182.4 451.0,181.2 451.0,180.0 451.0,178.8 451.0,177.6 451.0,176.3 451.1,175.1 451.1,173.9 451.1,172.7 451.1,171.4 451.1,170.2 451.1,169.0 451.2,167.8 451.2,166.6 451.2,165.3 451.2,164.1 451.2,162.9 451.2,161.7 451.2,160.4 451.3,159.2 451.3,158.0 451.3,156.8 451.3,155.6 451.3,154.3 451.3,153.1 451.4,151.9 451.4,150.7 451.4,149.4 451.4,148.2 451.4,147.0 451.4,145.8 451.5,144.6 451.5,143.3 451.5,142.1 451.5,140.9 451.5,139.7 451.5,138.4 451.5,137.2 451.6,136.0 451.6,134.8 451.6,133.6 451.6,132.3 451.6,131.1 451.6,129.9 451.7,128.7 451.7,127.4 451.7,126.2 451.7,125.0 451.7,123.8 451.8,122.6 451.8,121.4 451.8,120.1 451.9,118.9 451.9,117.7 451.9,116.5 452.0,115.3 452.0,114.1 452.1,112.8 452.1,111.6 452.1,110.4 452.2,109.2 452.2,108.0 452.2,106.8 452.3,105.5 452.3,104.3 452.3,103.1 452.4,101.9 452.4,100.7 452.4,99.5 452.5,98.2 452.5,97.0 452.5,95.8 452.6,94.6 452.6,93.4 452.6,92.2 452.7,90.9 452.7,89.7 452.8,88.5 452.8,87.3 452.8,86.1 452.9,84.9 452.9,83.6 452.9,82.4 453.0,81.2 453.0,80.0 453.0,78.8 453.1,77.6 453.1,76.4 453.1,75.2 453.2,74.0 453.2,72.8 453.2,71.6 453.3,70.3 453.3,69.1 453.3,67.9 453.4,66.7 453.4,65.5 453.4,64.3 453.5,63.1 453.5,61.9 453.6,60.7 453.6,59.5 453.6,58.3 453.7,57.1 453.7,55.9 453.7,54.7 453.8,53.4 453.8,52.2 453.8,51.0 453.9,49.8 453.9,48.6 453.9,47.4 454.0,46.2 454.0,45.0 454.1,43.7 454.1,42.5 454.2,41.2 454.3,39.9 454.3,38.7 454.4,37.4 454.5,36.1 454.5,34.9 454.6,33.6 454.7,34.9 454.8,36.1 454.8,37.4 454.9,38.7 455.0,39.9 455.1,41.2 455.1,42.5 455.2,43.7 455.3,45.0 455.3,46.2 455.4,47.4 455.4,48.6 455.4,49.8 455.5,51.0 455.5,52.2 455.5,53.4 455.6,54.7 455.6,55.9 455.6,57.1 455.7,58.3 455.7,59.5 455.7,60.7 455.8,61.9 455.8,63.1 455.9,64.3 455.9,65.5 455.9,66.7 456.0,67.9 456.0,69.1 456.0,70.3 456.1,71.6 456.1,72.8 456.1,74.0 456.2,75.2 456.2,76.4 456.2,77.6 456.3,78.8 456.3,80.0 456.3,81.2 456.3,82.4 456.4,83.6 456.4,84.9 456.4,86.1 456.4,87.3 456.5,88.5 456.5,89.7 456.5,90.9 456.5,92.2 456.6,93.4 456.6,94.6 456.6,95.8 456.6,97.0 456.7,98.2 456.7,99.5 456.7,100.7 456.7,101.9 456.8,103.1 456.8,104.3 456.8,105.5 456.8,106.8 456.9,108.0 456.9,109.2 456.9,110.4 456.9,111.6 457.0,112.8 457.0,114.1 457.0,115.3 457.0,116.5 457.1,117.7 457.1,118.9 457.1,120.1 457.1,121.4 457.2,122.6 457.2,123.8 457.2,125.0 457.2,126.2 457.3,127.4 457.3,128.7 457.3,129.9 457.4,131.1 457.4,132.3 457.4,133.6 457.5,134.8 457.5,136.0 457.5,137.2 457.6,138.4 457.6,139.7 457.6,140.9 457.7,142.1 457.7,143.3 457.7,144.6 457.8,145.8 457.8,147.0 457.8,148.2 457.9,149.4 457.9,150.7 457.9,151.9 458.0,153.1 458.0,154.3 458.0,155.6 458.1,156.8 458.1,158.0 458.1,159.2 458.2,160.4 458.2,161.7 458.2,162.9 458.3,164.1 458.3,165.3 458.3,166.6 458.4,167.8 458.4,169.0 458.4,170.2 458.5,171.4 458.5,172.7 458.5,173.9 458.6,175.1 458.6,176.3 458.6,177.6 458.7,178.8 458.7,180.0 458.7,181.2 458.8,182.4 458.8,183.6 458.9,184.9 458.9,186.1 459.0,187.3 459.0,188.5 459.1,189.7 459.1,190.9 459.2,192.2 459.2,193.4 459.3,194.6 459.3,195.8 459.4,197.0 459.4,198.2 459.5,199.5 459.5,200.7 459.6,201.9 459.6,203.1 459.7,204.3 459.7,205.5 459.8,206.8 459.8,208.0 459.9,209.2 459.9,210.4 460.0,211.6 460.0,212.8 460.1,214.1 460.1,215.3 460.2,216.5 460.2,217.7 460.3,218.9 460.3,220.1 460.4,221.4 460.4,222.6 460.5,223.8 460.5,225.0 460.6,226.2 460.6,227.5 460.7,228.8 460.8,230.0 460.9,231.2 460.9,232.5 461.0,233.8 461.1,235.0 461.2,236.2 461.2,237.5 461.3,238.8 461.4,240.0 461.5,241.2 461.6,242.5 461.6,243.8 461.7,245.0 461.8,246.2 461.9,247.5 461.9,248.8 462.0,250.0 462.1,251.2 462.2,252.4 462.3,253.6 462.4,254.8 462.5,256.0 462.6,257.2 462.7,258.4 462.8,259.6 462.9,260.8 463.0,262.0 463.1,263.2 463.2,264.4 463.3,265.6 463.4,266.8 463.5,268.0 463.6,269.2 463.8,270.5 463.9,271.8 464.0,273.0 464.1,274.2 464.2,275.5 464.4,276.8 464.5,278.0 465.0,279.3 465.6,280.5 466.1,281.8 466.5,280.5 466.9,279.3 467.3,278.0 467.4,276.8 467.5,275.5 467.5,274.3 467.6,273.1 467.7,271.8 467.8,270.6 467.8,269.4 467.9,268.2 468.0,266.9 468.1,265.7 468.1,264.5 468.2,263.2 468.3,262.0 468.4,260.8 468.4,259.5 468.5,258.3 468.5,257.0 468.6,255.8 468.6,254.6 468.7,253.3 468.8,252.1 468.8,250.9 468.9,249.6 468.9,248.4 469.0,247.1 469.0,245.9 469.1,244.7 469.2,243.4 469.2,242.2 469.3,241.0 469.3,239.7 469.4,238.5 469.4,237.2 469.5,236.0 471.1,237.1 471.9,238.3 472.8,239.5 473.6,240.7 474.4,241.9 475.2,243.1 476.0,244.4 476.8,245.6 477.6,246.8 478.4,248.4 479.2,250.0 480.0,248.4 480.8,246.8 480.9,245.6 481.1,244.4 481.2,243.2 481.3,242.0 481.5,240.8 481.6,239.6 481.7,238.3 481.9,237.1 482.0,235.9 482.1,234.7 482.3,233.5 482.4,232.3 482.5,231.0 482.6,229.8 482.8,228.5 482.9,227.3 483.0,226.0 483.1,224.8 483.3,223.5 483.4,222.3 483.5,221.0 483.6,219.8 483.8,218.5 483.9,217.3 484.0,216.0 484.0,214.8 484.1,213.5 484.1,212.3 484.2,211.0 484.2,209.8 484.3,208.6 484.3,207.3 484.4,206.1 484.4,204.9 484.5,203.6 484.5,202.4 484.6,201.1 484.6,199.9 484.7,198.7 484.7,197.4 484.8,196.2 484.8,195.0 484.9,193.7 484.9,192.5 485.0,191.2 485.0,190.0 485.0,188.8 485.1,187.6 485.1,186.4 485.1,185.2 485.2,184.0 485.2,182.8 485.2,181.6 485.3,180.3 485.3,179.1 485.3,177.9 485.4,176.7 485.4,175.5 485.4,174.3 485.5,173.1 485.5,171.9 485.6,170.7 485.6,169.5 485.6,168.3 485.7,167.1 485.7,165.9 485.7,164.7 485.8,163.4 485.8,162.2 485.8,161.0 485.9,159.8 485.9,158.6 485.9,157.4 486.0,156.2 486.0,155.0 486.1,153.7 486.2,152.5 486.2,151.2 486.3,149.9 486.4,148.7 486.5,147.4 486.6,146.1 486.6,144.8 486.7,143.6 486.8,142.3 486.9,141.0 487.0,139.8 487.1,138.5 487.1,137.2 487.2,136.0 487.3,134.7 487.4,136.0 487.4,137.2 487.5,138.5 487.6,139.8 487.6,141.0 487.7,142.3 487.7,143.6 487.8,144.8 487.9,146.1 487.9,147.4 488.0,148.7 488.1,149.9 488.1,151.2 488.2,152.5 488.2,153.7 488.3,155.0 488.3,156.2 488.4,157.4 488.4,158.6 488.4,159.9 488.4,161.1 488.5,162.3 488.5,163.5 488.5,164.7 488.5,165.9 488.6,167.2 488.6,168.4 488.6,169.6 488.7,170.8 488.7,172.0 488.7,173.2 488.7,174.5 488.8,175.7 488.8,176.9 488.8,178.1 488.8,179.3 488.9,180.5 488.9,181.8 488.9,183.0 488.9,184.2 489.0,185.4 489.0,186.6 489.0,187.8 489.1,189.1 489.1,190.3 489.1,191.5 489.1,192.7 489.2,193.9 489.2,195.1 489.2,196.4 489.2,197.6 489.3,198.8 489.3,200.0 489.3,201.2 489.4,202.4 489.4,203.6 489.4,204.8 489.5,206.1 489.5,207.3 489.5,208.5 489.5,209.7 489.6,210.9 489.6,212.1 489.6,213.3 489.7,214.5 489.7,215.8 489.7,217.0 489.8,218.2 489.8,219.4 489.8,220.6 489.8,221.8 489.9,223.0 489.9,224.2 489.9,225.5 490.0,226.7 490.0,227.9 490.0,229.1 490.1,230.3 490.1,231.5 490.1,232.7 490.1,233.9 490.2,235.2 490.2,236.4 490.2,237.6 490.3,238.8 490.3,240.0 490.4,241.2 490.5,242.4 490.5,243.6 490.6,244.8 490.7,246.0 490.8,247.2 490.9,248.4 490.9,249.6 491.0,250.8 491.1,252.0 491.2,253.2 491.3,254.4 491.3,255.6 491.4,256.8 491.5,258.0 491.8,259.3 492.0,260.5 492.3,261.8 492.6,263.1 492.8,264.3 493.1,265.6 493.4,266.9 493.6,268.1 493.9,269.4 494.2,268.2 494.4,266.9 494.7,265.7 495.0,264.5 495.2,263.2 495.5,262.0 495.6,260.8 495.7,259.6 495.8,258.3 495.8,257.1 495.9,255.9 496.0,254.7 496.1,253.4 496.2,252.2 496.2,251.0 496.3,249.8 496.4,248.6 496.5,247.3 496.6,246.1 496.7,244.9 496.8,243.7 496.8,242.4 496.9,241.2 497.0,240.0 497.1,238.8 497.2,237.6 497.3,236.4 497.4,235.2 497.5,234.0 497.6,232.8 497.7,231.6 497.8,230.4 497.9,229.2 498.0,228.0 498.2,226.7 498.5,225.3 498.8,223.9 499.0,222.6 499.2,223.9 499.5,225.3 499.8,226.7 500.0,228.0 500.1,229.2 500.1,230.4 500.1,231.6 500.2,232.8 500.2,234.0 500.3,235.2 500.4,236.4 500.4,237.6 500.4,238.8 500.5,240.0 500.6,241.2 500.7,242.5 500.8,243.8 500.8,245.0 500.9,246.2 501.0,247.5 501.1,248.8 501.2,250.0 501.2,251.2 501.3,252.5 501.4,253.8 501.5,255.0 501.6,256.3 501.8,257.6 501.9,258.9 502.1,260.2 502.2,261.5 502.4,262.8 502.6,264.1 502.7,265.4 502.9,266.7 503.0,268.0 503.2,269.2 503.4,270.5 503.6,271.8 503.8,273.0 503.9,274.2 504.1,275.5 504.3,276.8 504.5,278.0 504.8,279.2 505.0,280.5 505.3,281.8 505.6,283.0 505.8,284.2 506.1,285.5 506.6,286.6 507.1,287.7 507.5,288.8 508.0,289.9 508.5,291.0 509.1,292.1 509.8,293.1 510.4,294.1 511.0,295.2 512.2,296.4 513.5,297.5 514.6,297.9 515.8,298.4 517.5,298.0 519.0,296.8 519.6,295.4 520.3,294.0 520.7,292.8 521.1,291.5 521.5,290.3 521.7,289.0 521.8,287.8 522.0,286.5 522.1,285.3 522.3,284.0 522.6,282.3 523.0,280.6 523.1,281.9 523.3,283.2 523.4,284.4 523.6,285.7 523.7,287.0 523.8,288.3 523.9,289.6 524.0,290.9 524.1,292.2 524.2,293.5 524.3,294.8 524.4,296.1 524.5,297.4 524.6,298.7 524.7,300.0 525.6,301.5 526.5,303.0 527.6,303.9 528.7,304.8 530.4,305.1 532.0,305.5 533.2,305.5 534.4,305.6 535.6,305.6 536.8,305.6 537.9,305.1 539.0,304.5 539.9,303.5 540.7,302.6 541.6,301.6 542.0,300.5 542.3,299.3 542.6,298.1 543.0,297.0 543.2,295.7 543.4,294.3 543.6,293.0 543.8,291.6 544.0,290.3 544.2,289.0 544.5,287.6 544.8,286.3 545.0,285.0"/>
<g stroke="#000" stroke-width="2"><line x1="21.8" y1="326.5" x2="21.8" y2="335.5"/><line x1="60.9" y1="326.5" x2="60.9" y2="331.5"/><line x1="99.9" y1="326.5" x2="99.9" y2="335.5"/><line x1="139.0" y1="326.5" x2="139.0" y2="331.5"/><line x1="178.0" y1="326.5" x2="178.0" y2="335.5"/><line x1="217.1" y1="326.5" x2="217.1" y2="331.5"/><line x1="256.1" y1="326.5" x2="256.1" y2="335.5"/><line x1="295.2" y1="326.5" x2="295.2" y2="331.5"/><line x1="334.2" y1="326.5" x2="334.2" y2="335.5"/><line x1="373.3" y1="326.5" x2="373.3" y2="331.5"/><line x1="412.4" y1="326.5" x2="412.4" y2="335.5"/><line x1="451.4" y1="326.5" x2="451.4" y2="331.5"/><line x1="490.5" y1="326.5" x2="490.5" y2="335.5"/><line x1="529.5" y1="326.5" x2="529.5" y2="331.5"/></g>
<g style="font-family:'Liberation Sans',Arial,sans-serif;font-weight:bold;font-size:11px" fill="#000"><text x="21.4" y="349.5" text-anchor="middle">4000</text><text x="99.5" y="349.5" text-anchor="middle">3500</text><text x="177.6" y="349.5" text-anchor="middle">3000</text><text x="255.7" y="349.5" text-anchor="middle">2500</text><text x="333.8" y="349.5" text-anchor="middle">2000</text><text x="412.0" y="349.5" text-anchor="middle">1500</text><text x="490.1" y="349.5" text-anchor="middle">1000</text></g>
<text x="283" y="365" text-anchor="middle" style="font-family:'Liberation Sans',Arial,sans-serif;font-weight:bold;font-size:12.5px">Wavenumber (cm<tspan dy="-5" style="font-size:8px">&#8722;1</tspan><tspan dy="5">)</tspan></text>
<text transform="translate(11.4,166.7) rotate(-90)" style="font-family:'Liberation Sans',Arial,sans-serif;font-weight:bold;font-size:11.5px">A/A<tspan dy="5.2" style="font-size:7.3px">max</tspan></text>
<text transform="translate(96.6,301.2) rotate(-90)" style="font-family:'Liberation Sans',Arial,sans-serif;font-weight:bold;font-size:10.8px;paint-order:stroke" stroke="#fff" stroke-width="2" fill="#000">c.3520</text>
<text transform="translate(197.7,280.8) rotate(-90)" style="font-family:'Liberation Sans',Arial,sans-serif;font-weight:bold;font-size:10.8px;paint-order:stroke" stroke="#fff" stroke-width="2" fill="#000">2933</text>
<text transform="translate(379.6,73.8) rotate(-90)" style="font-family:'Liberation Sans',Arial,sans-serif;font-weight:bold;font-size:10.8px;paint-order:stroke" stroke="#fff" stroke-width="2" fill="#000">1728</text>
<text transform="translate(424.8,280.7) rotate(-90)" style="font-family:'Liberation Sans',Arial,sans-serif;font-weight:bold;font-size:10.8px;paint-order:stroke" stroke="#fff" stroke-width="2" fill="#000">1434</text>
<text transform="translate(437.6,199.3) rotate(-90)" style="font-family:'Liberation Sans',Arial,sans-serif;font-weight:bold;font-size:10.8px;paint-order:stroke" stroke="#fff" stroke-width="2" fill="#000">1371</text>
<text transform="translate(458.5,30.7) rotate(-90)" style="font-family:'Liberation Sans',Arial,sans-serif;font-weight:bold;font-size:10.8px;paint-order:stroke" stroke="#fff" stroke-width="2" fill="#000">1224</text>
<text transform="translate(469.6,203.5) rotate(-90)" style="font-family:'Liberation Sans',Arial,sans-serif;font-weight:bold;font-size:10.8px;paint-order:stroke" stroke="#fff" stroke-width="2" fill="#000">1121</text>
<text transform="translate(490.4,121.7) rotate(-90)" style="font-family:'Liberation Sans',Arial,sans-serif;font-weight:bold;font-size:10.8px;paint-order:stroke" stroke="#fff" stroke-width="2" fill="#000">1019</text>
<text transform="translate(503.6,206.7) rotate(-90)" style="font-family:'Liberation Sans',Arial,sans-serif;font-weight:bold;font-size:10.8px;paint-order:stroke" stroke="#fff" stroke-width="2" fill="#000">946</text>
<text transform="translate(528.5,268.7) rotate(-90)" style="font-family:'Liberation Sans',Arial,sans-serif;font-weight:bold;font-size:10.8px;paint-order:stroke" stroke="#fff" stroke-width="2" fill="#000">795</text>
<g stroke="#000" stroke-width="1.6"><line x1="93.6" y1="302.5" x2="93.6" y2="318"/><line x1="192.1" y1="282" x2="190.3" y2="301"/><line x1="467.9" y1="206.5" x2="470.3" y2="232"/></g>
<rect x="40.0" y="13.4" width="122.4" height="194.29999999999998" fill="#fff"/>
<line x1="81.3" y1="20.3" x2="81.3" y2="204" stroke="#000" stroke-width="1.6" stroke-dasharray="1.6 5.4"/>
<line x1="95.8" y1="19.2" x2="95.8" y2="204" stroke="#e02020" stroke-width="1.6" stroke-dasharray="1.6 5.4"/>
<line x1="106.0" y1="19.2" x2="106.0" y2="204" stroke="#eeee00" stroke-width="1.6" stroke-dasharray="1.6 5.4"/>
<line x1="115.9" y1="20.0" x2="115.9" y2="204" stroke="#b8b8b8" stroke-width="1.6" stroke-dasharray="1.6 5.4"/>
<g clip-path="url(#c1)"><polyline fill="none" stroke="#000000" stroke-width="2.3" stroke-linejoin="round" stroke-linecap="round" points="40.0,170.8 40.9,170.6 41.7,170.6 42.5,170.9 43.4,170.2 44.1,169.6 44.8,169.2 45.4,168.7 46.1,168.1 47.0,167.3 47.9,167.2 48.8,166.8 49.8,166.3 50.8,165.5 51.3,165.2 51.8,163.6 52.3,163.2 52.8,162.8 53.1,161.5 53.5,161.6 53.8,160.7 54.1,159.1 54.5,159.5 54.8,158.1 55.1,157.9 55.4,156.8 55.7,155.9 55.9,154.6 56.2,153.6 56.5,153.5 56.8,152.7 57.1,151.2 57.5,150.4 57.9,149.6 58.2,149.0 58.4,147.6 58.6,147.3 58.8,146.4 58.9,146.1 59.1,144.9 59.3,144.2 59.5,143.2 59.7,142.4 59.9,141.8 60.1,140.8 60.4,139.8 60.6,139.9 60.8,138.5 61.5,138.7 62.2,138.1 62.9,137.2 63.9,137.1 64.9,136.5 65.9,136.6 66.9,137.2 67.3,137.7 67.8,138.7 68.2,139.9 68.9,139.8 69.6,141.1 70.3,141.2 71.2,140.6 72.0,140.8 72.9,139.9 73.8,139.3 74.7,139.6 75.6,138.5 76.3,138.5 76.9,136.9 77.6,136.6 78.3,136.5 79.0,136.4 79.7,135.2 80.3,135.8 81.0,136.5 81.3,137.9 81.6,138.0 81.8,138.3 82.1,139.9 82.4,140.5 83.4,141.2 84.4,141.2 85.2,140.6 86.0,140.5 86.6,140.7 87.1,141.7 87.7,142.6 88.2,142.5 88.8,141.6 89.3,140.1 89.9,139.6 90.4,139.2 91.3,138.4 92.2,138.2 93.1,138.5 93.8,138.2 94.4,136.7 95.1,136.6 95.8,135.8 96.5,136.4 97.1,136.7 97.8,137.8 98.1,138.9 98.4,138.9 98.7,140.3 98.9,140.4 99.2,141.6 99.5,142.1 99.8,143.2 100.1,143.7 100.5,145.3 100.8,145.9 101.2,146.0 101.5,147.5 101.8,147.4 102.2,148.4 102.5,149.3 103.2,150.4 103.8,150.8 104.5,150.8 105.2,152.0 105.8,153.3 106.5,153.0 107.2,153.7 107.8,154.7 108.7,155.3 109.6,154.9 110.5,155.3 111.4,155.5 112.3,155.7 113.2,156.7 114.1,156.6 115.0,157.7 115.9,158.0 116.6,158.2 117.2,159.1 117.9,159.3 118.6,160.0 119.4,160.1 120.2,160.9 121.0,160.4 121.8,160.7 122.6,160.7 123.5,161.3 124.4,160.5 125.3,160.6 126.2,161.7 127.1,161.7 128.0,161.4 128.9,161.0 129.8,160.9 130.7,161.5 131.6,161.7 132.5,160.7 133.4,161.0 134.2,161.7 135.1,161.7 135.9,161.4 136.8,161.2 137.7,160.9 138.5,160.9 139.3,162.2 140.2,161.7 141.0,161.4 141.9,162.1 142.7,161.6 143.6,162.4 144.4,162.2 145.2,161.9 146.1,161.8 146.9,162.3 147.8,162.5 148.7,161.5 149.6,161.6 150.5,162.0 151.4,162.3 152.3,161.7 153.1,161.7 153.9,161.1 154.7,161.8 155.5,160.8 156.3,161.0 157.1,160.0 157.9,159.9 158.7,159.7 159.5,158.8 160.3,159.0 161.2,158.4 162.1,158.5 163.0,158.5"/><polyline fill="none" stroke="#b4b4b4" stroke-width="2.3" stroke-linejoin="round" stroke-linecap="round" points="40.0,172.8 41.2,172.9 42.4,172.3 43.5,172.5 44.7,172.2 45.7,171.9 46.8,172.1 47.8,171.4 48.8,171.5 49.7,171.0 50.5,170.3 51.4,169.5 51.8,168.7 52.1,167.7 52.5,166.3 52.8,165.4 53.1,164.5 53.5,163.4 53.8,162.2 54.2,161.0 54.5,159.9 54.8,159.1 55.2,158.0 55.5,156.7 56.0,155.9 56.4,154.8 56.9,154.2 57.3,153.1 57.8,152.1 58.2,151.3 58.8,150.5 59.4,149.6 59.9,148.6 60.5,148.0 61.3,147.3 62.1,146.5 62.9,145.9 64.1,145.7 65.3,145.6 66.5,145.2 67.8,145.1 69.0,144.8 70.3,144.6 71.0,143.9 71.7,143.0 72.3,141.9 73.0,141.0 73.6,140.2 74.2,138.8 74.8,137.8 75.4,136.8 76.0,136.0 76.6,135.2 77.2,134.1 77.8,133.1 78.4,131.9 79.0,131.0 79.7,130.2 80.4,129.6 81.0,128.5 81.7,127.7 82.4,127.1 83.0,125.8 83.6,125.0 84.2,124.2 84.8,123.0 85.2,122.1 85.6,121.0 86.0,120.1 86.4,119.0 86.9,118.4 87.3,117.2 87.7,116.1 88.1,115.3 88.5,114.2 88.9,113.4 89.2,112.1 89.6,111.3 90.0,110.0 90.4,109.0 90.7,107.8 91.1,107.1 91.5,105.9 91.8,105.1 92.1,103.9 92.4,102.8 92.7,102.0 93.0,101.0 93.4,100.2 93.7,99.3 94.0,98.2 94.3,97.0 94.6,95.9 94.9,95.2 95.6,94.5 96.2,93.6 96.9,92.5 97.9,92.0 98.9,91.8 99.9,91.4 100.9,91.1 102.2,90.7 103.6,89.8 104.5,88.9 105.4,88.2 106.3,87.8 107.1,87.3 107.9,86.5 108.7,85.7 109.5,85.2 110.3,84.4 111.3,83.8 112.3,83.1 113.4,82.3 114.4,81.7 115.7,81.1 117.0,81.0 118.1,81.5 119.3,82.3 120.4,83.1 121.3,83.6 122.2,83.9 123.1,84.4 124.0,85.0 124.9,85.5 125.8,85.8 126.6,86.5 127.4,87.0 128.2,87.9 129.0,88.6 129.8,89.1 130.5,90.1 131.1,90.9 131.8,91.2 132.5,92.3 133.1,92.9 133.8,93.8 134.4,94.8 134.9,95.8 135.5,96.7 136.1,97.7 136.6,99.1 137.2,99.9 137.7,100.8 138.1,102.0 138.6,102.9 139.1,103.6 139.6,104.6 140.0,105.7 140.5,106.6 141.1,107.7 141.6,108.5 142.2,109.4 142.8,110.4 143.3,111.8 143.9,112.6 144.4,113.7 144.9,114.3 145.4,115.7 145.8,116.5 146.3,117.4 146.8,118.6 147.3,119.4 147.8,120.1 148.2,121.1 148.7,122.1 149.1,123.3 149.6,124.1 150.0,125.0 150.6,126.0 151.2,127.1 151.8,127.8 152.4,129.0 153.0,129.6 153.6,130.8 154.3,131.8 154.9,132.4 155.6,133.5 156.3,134.5 156.9,135.3 157.6,136.1 158.5,136.8 159.4,137.4 160.3,138.2 161.2,138.6 162.1,139.2 163.0,140.0"/><polyline fill="none" stroke="#ee1111" stroke-width="2.3" stroke-linejoin="round" stroke-linecap="round" points="40.0,174.2 40.9,174.7 41.7,175.3 42.5,175.8 43.4,176.2 44.3,176.4 45.2,176.8 46.1,177.6 47.0,177.3 47.9,177.0 48.8,176.9 49.4,176.4 50.1,175.7 50.8,174.9 51.4,174.2 51.8,173.3 52.1,172.5 52.5,171.3 52.8,170.6 53.1,169.5 53.5,168.8 53.8,168.1 54.1,166.6 54.4,166.2 54.6,164.7 54.9,164.1 55.2,162.9 55.5,162.1 55.8,161.2 56.2,160.7 56.5,159.3 56.9,158.4 57.2,158.2 57.5,157.1 57.9,156.0 58.2,155.4 58.7,154.9 59.2,154.0 59.7,152.6 60.2,152.0 60.5,151.0 60.7,149.9 61.0,149.0 61.2,148.3 61.5,147.3 61.9,146.2 62.2,145.7 62.5,144.4 62.9,143.9 63.9,143.7 64.9,144.1 65.9,143.8 66.9,143.9 68.0,143.6 69.2,143.5 70.3,143.2 70.8,142.2 71.3,141.2 71.9,140.1 72.4,139.6 72.9,138.5 73.6,138.0 74.2,137.2 74.9,136.1 75.6,135.2 76.0,134.3 76.5,133.5 76.9,133.0 77.4,132.2 77.8,131.0 78.3,130.5 78.8,129.4 79.2,128.6 79.7,127.8 80.1,127.1 80.5,126.0 81.0,125.1 81.9,124.1 82.8,124.0 83.7,123.1 84.8,122.8 86.0,122.6 87.0,122.1 88.0,121.5 88.8,120.5 89.5,119.9 90.3,119.2 90.9,118.5 91.6,118.1 92.2,117.0 92.9,116.7 93.5,116.0 94.3,115.3 95.0,115.1 95.8,114.5 96.5,114.9 97.1,115.7 97.8,116.4 98.4,117.2 99.1,118.0 99.8,118.3 100.4,119.3 101.1,120.0 102.0,120.1 102.9,120.5 103.8,121.0 104.5,121.7 105.2,122.7 105.8,123.0 106.5,123.7 107.2,124.7 107.8,124.8 108.5,126.0 109.2,126.4 110.1,127.0 111.0,127.5 111.9,128.4 112.6,129.2 113.2,130.0 113.9,130.1 114.6,131.1 115.3,131.8 115.9,133.0 116.6,133.5 117.3,134.5 118.1,134.9 118.9,135.2 119.7,135.8 120.5,136.7 121.3,137.2 122.3,138.0 123.3,138.5 124.3,138.7 125.3,139.2 126.3,139.3 127.3,140.0 128.4,140.8 129.4,141.0 130.2,141.8 131.0,142.3 131.8,142.6 132.6,143.4 133.4,144.0 134.2,144.6 134.9,145.3 135.7,145.6 136.5,146.7 137.3,147.3 138.0,147.4 138.8,148.2 139.6,148.6 140.3,149.6 141.1,149.8 141.9,150.9 142.7,151.1 143.4,151.9 144.2,152.3 145.0,153.1 145.7,153.4 146.5,154.2 147.3,154.8 148.1,155.8 148.8,156.5 149.6,157.0 150.4,157.4 151.1,158.6 151.9,159.0 152.6,159.5 153.4,160.3 154.1,161.4 154.9,161.7 155.8,162.1 156.7,162.6 157.6,163.2 158.5,163.6 159.4,163.9 160.3,164.0 161.2,164.6 162.1,165.2 163.0,165.3"/><polyline fill="none" stroke="#f58220" stroke-width="2.3" stroke-linejoin="round" stroke-linecap="round" points="40.0,189.0 40.9,188.5 41.7,188.4 42.5,188.1 43.4,187.6 44.4,187.5 45.4,186.8 46.4,186.5 47.4,186.3 48.2,185.4 49.1,184.8 49.9,184.4 50.8,183.6 51.3,182.6 51.9,182.0 52.4,181.0 53.0,180.3 53.5,179.6 53.9,178.7 54.2,178.1 54.6,177.1 55.0,175.8 55.4,175.1 55.7,174.2 56.1,173.5 56.4,172.9 56.8,171.9 57.1,171.1 57.5,170.2 57.8,169.3 58.1,168.5 58.5,167.6 58.8,166.4 59.2,165.9 59.5,164.8 60.0,164.0 60.6,163.4 61.1,162.4 61.7,161.6 62.2,160.8 63.1,160.3 64.0,159.8 64.9,159.4 65.9,159.1 66.9,158.8 67.9,159.1 68.9,158.7 69.6,158.2 70.3,157.7 71.1,156.9 71.8,156.2 72.5,155.5 72.9,154.8 73.3,153.6 73.7,153.0 74.0,152.0 74.4,151.0 74.8,150.1 75.2,149.5 75.6,148.6 76.0,147.6 76.5,146.8 76.9,146.0 77.4,144.9 77.8,143.9 78.3,143.2 78.8,142.4 79.4,141.4 79.9,140.6 80.5,139.8 81.0,139.2 81.9,138.5 82.8,137.6 83.7,137.2 84.5,136.7 85.2,136.3 86.0,135.5 86.8,134.7 87.5,134.1 88.2,133.5 89.0,132.5 89.5,131.4 90.0,130.6 90.5,130.2 91.0,129.4 91.6,128.4 92.1,127.3 92.6,126.6 93.1,125.8 93.9,125.5 94.8,125.0 95.6,124.4 96.4,123.7 97.3,124.2 98.2,125.3 99.1,125.8 99.8,126.4 100.4,127.3 101.1,127.8 102.1,127.9 103.2,128.7 104.2,128.8 105.2,129.1 106.0,129.8 106.8,130.0 107.6,130.8 108.4,131.3 109.2,131.8 109.9,132.6 110.5,133.3 111.2,134.3 111.9,134.8 112.5,135.6 113.2,136.5 113.9,137.1 114.6,138.2 115.2,138.6 115.9,139.5 116.6,140.2 117.3,141.2 118.1,141.8 118.9,142.3 119.7,142.8 120.5,143.1 121.3,143.9 122.1,144.4 122.9,144.9 123.7,145.3 124.5,145.8 125.3,146.6 126.1,147.4 126.9,147.5 127.8,148.1 128.6,148.6 129.4,149.3 130.2,150.0 131.0,150.4 131.8,151.3 132.6,151.9 133.4,152.6 134.3,153.6 135.2,153.8 136.1,154.9 136.8,155.5 137.4,156.2 138.1,157.2 138.8,157.6 139.5,158.3 140.2,159.1 140.8,159.5 141.5,160.3 142.3,160.7 143.0,161.6 143.8,162.6 144.6,163.1 145.4,163.5 146.1,164.4 146.9,165.0 147.7,165.8 148.4,166.0 149.2,166.8 150.0,167.3 150.8,167.8 151.5,168.4 152.3,169.1 153.2,169.3 154.2,169.8 155.1,170.0 156.1,170.6 157.0,171.0 157.9,171.0 158.7,171.7 159.6,171.9 160.4,171.8 161.3,172.6 162.1,172.5 163.0,173.0"/><polyline fill="none" stroke="#ffff00" stroke-width="2.3" stroke-linejoin="round" stroke-linecap="round" points="40.0,191.0 41.1,190.2 42.3,189.7 43.4,189.0 44.4,188.6 45.4,188.2 46.4,187.4 47.4,187.0 48.2,186.2 49.0,185.7 49.8,185.0 50.6,184.2 51.4,183.6 51.9,182.8 52.3,181.8 52.8,181.0 53.2,179.8 53.6,179.0 54.1,178.2 54.5,177.4 54.9,176.2 55.3,175.2 55.6,174.5 56.0,173.5 56.4,172.3 56.8,171.5 57.2,170.6 57.6,169.7 58.0,168.5 58.3,167.7 58.7,166.6 59.1,165.7 59.5,164.8 60.0,163.7 60.4,162.9 60.9,162.3 61.3,161.2 61.8,160.5 62.2,159.4 63.1,158.5 64.0,157.6 64.9,156.7 65.6,155.8 66.2,154.8 66.9,153.5 67.6,152.7 68.0,151.8 68.5,151.0 68.9,149.9 69.4,148.9 69.8,148.3 70.3,147.3 70.8,146.2 71.3,145.0 71.9,144.0 72.4,142.9 72.9,141.9 73.2,141.1 73.5,140.0 73.8,138.9 74.1,138.2 74.4,137.0 74.7,136.1 75.0,135.2 75.3,134.0 75.6,133.4 75.9,132.1 76.1,131.3 76.4,130.2 76.7,129.4 77.0,128.4 77.3,127.4 77.7,126.2 78.0,125.0 78.3,123.9 78.7,122.8 79.0,121.7 79.4,120.7 79.8,119.5 80.2,118.6 80.6,117.4 81.0,116.5 81.6,115.7 82.2,114.7 82.8,113.4 83.4,112.6 84.2,111.8 85.1,111.4 86.0,110.7 86.8,110.0 87.3,108.8 87.8,108.1 88.3,107.3 88.7,106.1 89.2,105.1 89.7,104.2 90.2,103.2 90.6,102.4 90.9,101.2 91.3,100.2 91.7,99.2 92.1,98.5 92.4,97.4 92.8,96.5 93.2,95.4 93.6,94.5 94.0,93.4 94.3,92.6 94.7,91.9 95.1,90.8 95.5,89.8 96.5,89.0 97.6,88.4 98.9,89.8 100.0,89.7 101.2,89.3 102.3,89.1 103.4,88.6 104.5,88.0 105.6,87.8 106.7,87.9 107.9,88.1 109.0,88.4 109.9,88.8 110.8,89.5 111.7,89.8 112.8,90.4 113.9,91.0 115.0,91.8 115.9,92.7 116.8,93.8 117.7,94.5 118.6,95.3 119.5,96.4 120.4,97.2 121.2,97.9 122.0,98.8 122.8,99.6 123.5,100.5 124.3,101.2 125.1,101.9 125.8,102.8 126.4,103.8 127.1,104.5 127.8,105.5 128.4,106.6 129.1,107.3 129.7,108.2 130.2,109.2 130.8,109.9 131.4,111.0 131.9,111.8 132.5,112.6 133.1,113.5 133.6,114.7 134.2,115.5 134.7,116.5 135.2,117.4 135.8,118.5 136.2,119.3 136.7,120.3 137.1,121.5 137.6,122.2 138.0,123.2 138.4,124.2 138.9,125.2 139.3,126.1 139.8,127.3 140.2,128.1 140.6,128.9 141.0,129.9 141.4,130.9 141.8,131.7 142.2,132.7 142.6,133.6 143.0,134.8 143.4,135.5 143.8,136.6 144.2,137.5 144.7,138.4 145.2,139.6 145.7,140.6 146.2,141.4 146.7,142.7 147.2,143.6 147.7,144.5 148.2,145.5 148.8,146.3 149.4,147.4 150.0,148.3 150.5,149.4 151.1,150.5 151.7,151.5 152.3,152.3 153.0,153.0 153.6,154.1 154.3,155.1 155.0,155.9 155.6,156.6 156.3,157.6 157.3,158.3 158.3,158.6 159.3,159.4 160.3,159.7 161.7,160.0 163.0,160.0"/></g>
<rect x="40.0" y="13.4" width="122.4" height="194.29999999999998" fill="none" stroke="#111" stroke-width="1.5" stroke-linejoin="round"/>
<g stroke="#000" stroke-width="1.2"><line x1="63.6" y1="207.7" x2="63.6" y2="211.2"/><line x1="87.2" y1="207.7" x2="87.2" y2="213.7"/><line x1="110.9" y1="207.7" x2="110.9" y2="211.2"/><line x1="134.5" y1="207.7" x2="134.5" y2="213.7"/><line x1="158.1" y1="207.7" x2="158.1" y2="211.2"/><line x1="40.0" y1="207.7" x2="40.0" y2="213.5" stroke-width="1.6"/></g>
<g style="font-family:'Liberation Sans',Arial,sans-serif;font-weight:bold;font-size:8.2px" fill="#000"><text x="38.5" y="221.6" text-anchor="middle">3750</text><text x="85.8" y="221.6" text-anchor="middle">3500</text><text x="133.0" y="221.6" text-anchor="middle">3250</text></g>
<text x="100.7" y="232" text-anchor="middle" style="font-family:'Liberation Sans',Arial,sans-serif;font-weight:bold;font-size:7.6px">Wavenumber (cm<tspan dy="-3" style="font-size:5px">&#8722;1</tspan><tspan dy="3">)</tspan></text>
<text transform="translate(33.7,123.8) rotate(-90)" style="font-family:'Liberation Sans',Arial,sans-serif;font-weight:bold;font-size:8px">A/A<tspan dy="2.4" style="font-size:5.2px">max</tspan></text>
<text transform="translate(85.2,72.6) rotate(-90)" style="font-family:'Liberation Sans',Arial,sans-serif;font-weight:bold;font-size:9px;paint-order:stroke" stroke="#fff" stroke-width="2" fill="#000">c. 3520</text>
<text transform="translate(99.8,47.7) rotate(-90)" style="font-family:'Liberation Sans',Arial,sans-serif;font-weight:bold;font-size:9px;paint-order:stroke" stroke="#fff" stroke-width="2" fill="#e01818">c. 3450</text>
<text transform="translate(108.4,59.1) rotate(-90)" style="font-family:'Liberation Sans',Arial,sans-serif;font-weight:bold;font-size:9px;paint-order:stroke" stroke="#fff" stroke-width="2" fill="#f0f000">3400</text>
<text transform="translate(119.1,72.6) rotate(-90)" style="font-family:'Liberation Sans',Arial,sans-serif;font-weight:normal;font-size:9px;paint-order:stroke" stroke="#fff" stroke-width="2" fill="#a0a0a0">c. 3340</text>
<rect x="177.7" y="12.9" width="117.30000000000001" height="193.29999999999998" fill="#fff"/>
<line x1="223.9" y1="18.6" x2="223.9" y2="202" stroke="#000" stroke-width="1.6" stroke-dasharray="1.6 5.4"/>
<line x1="231.6" y1="17.5" x2="231.6" y2="202" stroke="#e02020" stroke-width="1.6" stroke-dasharray="1.6 5.4"/>
<line x1="241.9" y1="17.5" x2="241.9" y2="202" stroke="#b8b8b8" stroke-width="1.6" stroke-dasharray="1.6 5.4"/>
<g clip-path="url(#c2)"><polyline fill="none" stroke="#000000" stroke-width="2.3" stroke-linejoin="round" stroke-linecap="round" points="177.5,8.0 178.5,14.0 180.0,35.0 182.1,65.0 185.0,92.0 188.7,115.0 192.7,136.0 196.8,155.3 199.2,166.6 201.0,173.0 203.3,178.8 205.3,176.2 207.3,162.0 210.0,146.0 213.0,131.0 215.5,119.0 218.0,110.0 220.0,102.0 221.6,95.5 224.0,93.0 226.0,95.5 228.2,98.7 231.5,103.2 235.0,105.5 237.9,106.8 242.7,110.0 244.4,112.9 247.6,114.5 249.2,116.1 251.6,118.5 253.2,120.2 255.6,121.8 258.1,121.0 259.7,117.7 260.8,110.0 262.3,100.3 263.7,86.9 265.8,73.4 267.1,60.0 268.4,50.3 271.1,46.3 273.8,42.3 275.2,30.2 276.5,14.0 277.0,5.0"/><polyline fill="none" stroke="#000000" stroke-width="2.3" stroke-linejoin="round" stroke-linecap="round" points="291.2,5.0 292.3,30.0 293.3,60.0 294.5,90.0 295.5,115.0"/><polyline fill="none" stroke="#b4b4b4" stroke-width="2.3" stroke-linejoin="round" stroke-linecap="round" points="177.3,15.0 178.5,40.0 179.7,60.0 182.0,85.0 184.5,105.0 186.8,117.0 190.3,131.1 194.4,152.1 197.2,166.0 199.9,180.2 202.6,186.2 205.3,181.5 207.5,162.0 210.4,150.0 213.5,130.0 216.5,110.0 219.0,100.0 221.0,85.0 222.9,77.0 225.0,76.9 231.5,76.1 239.5,76.1 244.4,77.7 249.2,82.6 253.2,89.0 256.5,93.1 259.7,92.3 262.1,84.2 263.7,72.9 265.1,60.0 265.8,50.3 267.8,36.9 270.5,27.5 273.8,14.0 274.5,5.0"/><polyline fill="none" stroke="#b4b4b4" stroke-width="2.3" stroke-linejoin="round" stroke-linecap="round" points="291.8,5.0 292.0,14.0 293.3,60.0 295.0,100.0"/><polyline fill="none" stroke="#ee1111" stroke-width="2.3" stroke-linejoin="round" stroke-linecap="round" points="177.3,103.0 180.0,120.0 183.0,140.0 186.0,160.0 189.0,175.0 192.0,182.0 195.2,181.5 197.5,176.0 199.9,168.1 201.9,160.0 204.0,147.3 206.5,135.0 208.9,123.1 211.3,115.0 213.5,104.0 215.5,95.0 218.4,84.2 221.0,74.0 223.2,69.5 226.0,69.0 231.5,68.0 233.9,70.5 236.3,74.5 239.5,78.5 242.7,83.4 246.0,89.0 249.2,93.9 252.4,100.3 255.6,106.8 258.9,112.2 261.3,108.4 263.7,100.3 266.1,89.0 268.5,77.7 271.0,68.0 273.4,60.0 275.0,50.0 276.5,35.0 278.0,20.0 279.0,5.0"/><polyline fill="none" stroke="#ee1111" stroke-width="2.3" stroke-linejoin="round" stroke-linecap="round" points="288.0,5.0 288.2,14.0 288.9,30.2 289.8,50.3 290.2,60.0 291.6,85.0 293.6,110.0 294.6,125.0"/><polyline fill="none" stroke="#f58220" stroke-width="2.3" stroke-linejoin="round" stroke-linecap="round" points="177.3,98.0 179.8,115.0 183.1,139.2 185.8,160.0 188.5,176.2 191.8,186.9 193.8,188.9 195.9,184.2 197.9,176.2 201.5,162.0 205.5,150.0 210.5,130.0 215.2,110.0 216.5,105.0 218.5,97.0 221.0,86.0 223.2,77.0 225.0,75.3 229.8,77.7 234.7,81.0 237.9,85.8 241.1,89.8 246.0,93.9 250.8,97.9 255.6,101.9 258.1,103.5 261.3,100.3 264.5,90.6 266.9,81.0 270.2,69.7 272.5,60.0 274.5,50.0 276.0,35.0 278.0,20.0 279.0,12.0 279.5,5.0"/><polyline fill="none" stroke="#f58220" stroke-width="2.3" stroke-linejoin="round" stroke-linecap="round" points="288.0,5.0 288.2,14.0 288.9,30.2 289.8,50.3 290.2,60.0 291.6,85.0 293.6,110.0 294.6,125.0"/><polyline fill="none" stroke="#ffff00" stroke-width="2.3" stroke-linejoin="round" stroke-linecap="round" points="177.5,78.0 178.5,88.0 180.0,100.0 181.5,112.0 182.5,120.0 184.7,139.2 187.9,157.0 190.0,166.0 192.5,180.2 194.5,188.0 196.5,193.6 200.6,200.4 202.6,201.7 205.3,197.7 208.0,184.2 210.7,166.7 211.3,160.0 213.7,147.3 216.0,131.0 218.5,115.0 220.5,108.0 222.5,100.0 224.0,96.3 226.0,99.0 228.2,101.9 231.5,104.4 236.3,104.4 241.1,106.8 246.0,109.0 249.2,108.4 251.6,104.6 254.0,108.2 256.5,113.2 258.9,115.6 259.7,115.3 261.3,111.6 262.5,106.0 264.4,100.0 267.1,93.6 269.8,80.2 272.5,70.8 274.0,62.0 275.2,50.3 277.2,36.9 279.2,14.0 279.5,5.0"/><polyline fill="none" stroke="#ffff00" stroke-width="2.3" stroke-linejoin="round" stroke-linecap="round" points="288.4,5.0 288.6,14.0 289.3,30.2 290.2,50.3 290.6,60.0 292.0,85.0 294.0,110.0 295.0,125.0"/></g>
<rect x="177.7" y="12.9" width="117.30000000000001" height="193.29999999999998" fill="none" stroke="#111" stroke-width="1.5" stroke-linejoin="round"/>
<g stroke="#000" stroke-width="1.2"><line x1="207.0" y1="206.2" x2="207.0" y2="209.5"/><line x1="236.3" y1="206.2" x2="236.3" y2="212.7"/><line x1="265.7" y1="206.2" x2="265.7" y2="209.5"/><line x1="177.7" y1="206.2" x2="177.7" y2="212.5" stroke-width="1.6"/><line x1="295.0" y1="206.2" x2="295.0" y2="212.5" stroke-width="1.6"/></g>
<g style="font-family:'Liberation Sans',Arial,sans-serif;font-weight:bold;font-size:8.2px" fill="#000"><text x="176.1" y="220.6" text-anchor="middle">1200</text><text x="234.8" y="220.6" text-anchor="middle">1100</text><text x="293.4" y="220.6" text-anchor="middle">1000</text></g>
<text x="236.3" y="229.4" text-anchor="middle" style="font-family:'Liberation Sans',Arial,sans-serif;font-weight:bold;font-size:7.45px">Wavenumber (cm<tspan dy="-3" style="font-size:5px">&#8722;1</tspan><tspan dy="3">)</tspan></text>
<text transform="translate(171.4,123.9) rotate(-90)" style="font-family:'Liberation Sans',Arial,sans-serif;font-weight:bold;font-size:8px">A/A<tspan dy="2.4" style="font-size:5.2px">max</tspan></text>
<text transform="translate(225.0,58.6) rotate(-90)" style="font-family:'Liberation Sans',Arial,sans-serif;font-weight:bold;font-size:9px;paint-order:stroke" stroke="#fff" stroke-width="2" fill="#000">1121</text>
<text transform="translate(234.7,37.5) rotate(-90)" style="font-family:'Liberation Sans',Arial,sans-serif;font-weight:bold;font-size:9px;paint-order:stroke" stroke="#fff" stroke-width="2" fill="#e01818">1109</text>
<text transform="translate(244.4,62.9) rotate(-90)" style="font-family:'Liberation Sans',Arial,sans-serif;font-weight:normal;font-size:9px;paint-order:stroke" stroke="#fff" stroke-width="2" fill="#a0a0a0">1094</text>
</svg></body></html>
